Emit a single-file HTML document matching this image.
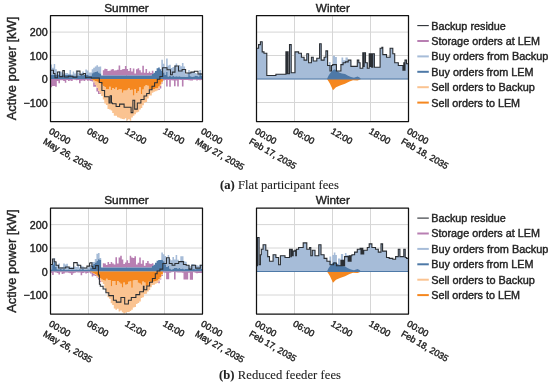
<!DOCTYPE html>
<html><head><meta charset="utf-8"><title>Figure</title>
<style>
html,body{margin:0;padding:0;background:#fff;}
svg{display:block;font-family:'Liberation Sans', Arial, sans-serif;}
svg text{stroke:#222;stroke-width:0.4px;}
</style></head><body>
<svg width="550" height="384" viewBox="0 0 550 384">
<rect width="550" height="384" fill="#fff"/>
<text x="126.5" y="11.8" font-size="11.8" text-anchor="middle" fill="#222">Summer</text>
<text x="332.8" y="11.8" font-size="11.8" text-anchor="middle" fill="#222">Winter</text>
<text transform="translate(16.2 68.5) rotate(-90)" font-size="12.95" text-anchor="middle" fill="#222">Active power [kW]</text>
<g stroke="#d6d6d6" stroke-width="1" fill="none"><line x1="50.5" y1="32.1" x2="202.5" y2="32.1"/><line x1="50.5" y1="55.5" x2="202.5" y2="55.5"/><line x1="50.5" y1="79" x2="202.5" y2="79"/><line x1="50.5" y1="102.5" x2="202.5" y2="102.5"/><line x1="88.5" y1="15.5" x2="88.5" y2="121.5"/><line x1="126.5" y1="15.5" x2="126.5" y2="121.5"/><line x1="164.5" y1="15.5" x2="164.5" y2="121.5"/></g>
<path d="M50.5 64.4L52.1 64.4L52.1 67.7L53.7 67.7L53.7 64L55.2 64L55.2 69.2L56.8 69.2L56.8 73.9L58.4 73.9L58.4 71L60 71L60 71.4L61.6 71.4L61.6 72.6L63.2 72.6L63.2 73.7L64.8 73.7L64.8 73.3L66.3 73.3L66.3 73L67.9 73L67.9 73.8L69.5 73.8L69.5 69.9L71.1 69.9L71.1 74.4L72.7 74.4L72.7 71.4L74.2 71.4L74.2 73.4L75.8 73.4L75.8 70.5L77.4 70.5L77.4 72.4L79 72.4L79 73.8L80.6 73.8L80.6 73.1L82.2 73.1L82.2 71.6L83.8 71.6L83.8 73.3L85.3 73.3L85.3 69.4L86.9 69.4L86.9 70.5L88.5 70.5L88.5 72.5L90.1 72.5L90.1 72.5L91.7 72.5L91.7 69.2L93.2 69.2L93.2 67.8L94.8 67.8L94.8 66.5L96.4 66.5L96.4 65.2L98 65.2L98 66.7L99.6 66.7L99.6 66.6L101.2 66.6L101.2 75.5L102.8 75.5L102.8 70.2L104.3 70.2L104.3 68.7L105.9 68.7L105.9 68.9L107.5 68.9L107.5 71.1L109.1 71.1L109.1 70.8L110.7 70.8L110.7 69.5L112.2 69.5L112.2 69.1L113.8 69.1L113.8 70.4L115.4 70.4L115.4 70.3L117 70.3L117 69.8L118.6 69.8L118.6 65.5L120.2 65.5L120.2 70L121.8 70L121.8 69.3L123.3 69.3L123.3 68.9L124.9 68.9L124.9 65.9L126.5 65.9L126.5 69.1L128.1 69.1L128.1 71L129.7 71L129.7 67.9L131.2 67.9L131.2 71.5L132.8 71.5L132.8 68.5L134.4 68.5L134.4 73.4L136 73.4L136 69.3L137.6 69.3L137.6 68.2L139.2 68.2L139.2 70.3L140.8 70.3L140.8 72.6L142.3 72.6L142.3 65.7L143.9 65.7L143.9 72.7L145.5 72.7L145.5 69L147.1 69L147.1 72.9L148.7 72.9L148.7 71.6L150.2 71.6L150.2 72.9L151.8 72.9L151.8 70.8L153.4 70.8L153.4 72.8L155 72.8L155 70.9L156.6 70.9L156.6 68.3L158.2 68.3L158.2 67.5L159.8 67.5L159.8 69.3L161.3 69.3L161.3 59.7L162.9 59.7L162.9 63.7L164.5 63.7L164.5 67L166.1 67L166.1 58.5L167.7 58.5L167.7 65.6L169.2 65.6L169.2 64.7L170.8 64.7L170.8 68L172.4 68L172.4 67.1L174 67.1L174 65.5L175.6 65.5L175.6 63.6L177.2 63.6L177.2 66.8L178.8 66.8L178.8 65.1L180.3 65.1L180.3 66.2L181.9 66.2L181.9 62.9L183.5 62.9L183.5 66.6L185.1 66.6L185.1 74.2L186.7 74.2L186.7 73.2L188.2 73.2L188.2 70.1L189.8 70.1L189.8 72.2L191.4 72.2L191.4 72.1L193 72.1L193 71.7L194.6 71.7L194.6 72.9L196.2 72.9L196.2 73.4L197.8 73.4L197.8 73.8L199.3 73.8L199.3 69.9L200.9 69.9L200.9 73.2L202.5 73.2L202.5 75.8L200.9 75.8L200.9 72.9L199.3 72.9L199.3 76.5L197.8 76.5L197.8 76.1L196.2 76.1L196.2 75.7L194.6 75.7L194.6 76.6L193 76.6L193 76.7L191.4 76.7L191.4 76.3L189.8 76.3L189.8 73L188.2 73L188.2 76.7L186.7 76.7L186.7 76.9L185.1 76.9L185.1 76.7L183.5 76.7L183.5 76.7L181.9 76.7L181.9 76.8L180.3 76.8L180.3 76.2L178.8 76.2L178.8 76.4L177.2 76.4L177.2 76.2L175.6 76.2L175.6 76.6L174 76.6L174 75.7L172.4 75.7L172.4 76.6L170.8 76.6L170.8 75.7L169.2 75.7L169.2 76.4L167.7 76.4L167.7 71.9L166.1 71.9L166.1 74.8L164.5 74.8L164.5 72.4L162.9 72.4L162.9 70.9L161.3 70.9L161.3 69.3L159.8 69.3L159.8 67.5L158.2 67.5L158.2 68.3L156.6 68.3L156.6 70.9L155 70.9L155 72.8L153.4 72.8L153.4 70.8L151.8 70.8L151.8 72.9L150.2 72.9L150.2 71.6L148.7 71.6L148.7 72.9L147.1 72.9L147.1 69L145.5 69L145.5 72.7L143.9 72.7L143.9 65.7L142.3 65.7L142.3 72.6L140.8 72.6L140.8 70.3L139.2 70.3L139.2 68.2L137.6 68.2L137.6 69.3L136 69.3L136 73.4L134.4 73.4L134.4 68.5L132.8 68.5L132.8 71.5L131.2 71.5L131.2 67.9L129.7 67.9L129.7 71L128.1 71L128.1 69.1L126.5 69.1L126.5 65.9L124.9 65.9L124.9 68.9L123.3 68.9L123.3 69.3L121.8 69.3L121.8 70L120.2 70L120.2 65.5L118.6 65.5L118.6 69.8L117 69.8L117 70.3L115.4 70.3L115.4 70.4L113.8 70.4L113.8 69.1L112.2 69.1L112.2 69.5L110.7 69.5L110.7 70.8L109.1 70.8L109.1 71.1L107.5 71.1L107.5 68.9L105.9 68.9L105.9 68.7L104.3 68.7L104.3 70.2L102.8 70.2L102.8 75.5L101.2 75.5L101.2 73.6L99.6 73.6L99.6 72.5L98 72.5L98 71.3L96.4 71.3L96.4 71.9L94.8 71.9L94.8 72.2L93.2 72.2L93.2 73.3L91.7 73.3L91.7 75.8L90.1 75.8L90.1 75.7L88.5 75.7L88.5 74.8L86.9 74.8L86.9 75.1L85.3 75.1L85.3 75.1L83.8 75.1L83.8 75.5L82.2 75.5L82.2 74.6L80.6 74.6L80.6 75.7L79 75.7L79 75.6L77.4 75.6L77.4 75.8L75.8 75.8L75.8 75.7L74.2 75.7L74.2 75.8L72.7 75.8L72.7 75.6L71.1 75.6L71.1 74.6L69.5 74.6L69.5 74.8L67.9 74.8L67.9 74.9L66.3 74.9L66.3 75L64.8 75L64.8 75.3L63.2 75.3L63.2 74.8L61.6 74.8L61.6 75.7L60 75.7L60 75.1L58.4 75.1L58.4 75L56.8 75L56.8 74.8L55.2 74.8L55.2 74.8L53.7 74.8L53.7 74.8L52.1 74.8L52.1 74.8L50.5 74.8Z" fill="#a6bcd8"/>
<path d="M50.5 74.8L52.1 74.8L52.1 74.8L53.7 74.8L53.7 74.8L55.2 74.8L55.2 74.8L56.8 74.8L56.8 75L58.4 75L58.4 75.1L60 75.1L60 75.7L61.6 75.7L61.6 74.8L63.2 74.8L63.2 75.3L64.8 75.3L64.8 75L66.3 75L66.3 74.9L67.9 74.9L67.9 74.8L69.5 74.8L69.5 74.6L71.1 74.6L71.1 75.6L72.7 75.6L72.7 75.8L74.2 75.8L74.2 75.7L75.8 75.7L75.8 75.8L77.4 75.8L77.4 75.6L79 75.6L79 75.7L80.6 75.7L80.6 74.6L82.2 74.6L82.2 75.5L83.8 75.5L83.8 75.1L85.3 75.1L85.3 75.1L86.9 75.1L86.9 74.8L88.5 74.8L88.5 75.7L90.1 75.7L90.1 75.8L91.7 75.8L91.7 73.3L93.2 73.3L93.2 72.2L94.8 72.2L94.8 71.9L96.4 71.9L96.4 71.3L98 71.3L98 72.5L99.6 72.5L99.6 73.6L101.2 73.6L101.2 75.5L102.8 75.5L102.8 70.2L104.3 70.2L104.3 68.7L105.9 68.7L105.9 68.9L107.5 68.9L107.5 71.1L109.1 71.1L109.1 70.8L110.7 70.8L110.7 69.5L112.2 69.5L112.2 69.1L113.8 69.1L113.8 70.4L115.4 70.4L115.4 70.3L117 70.3L117 69.8L118.6 69.8L118.6 65.5L120.2 65.5L120.2 70L121.8 70L121.8 69.3L123.3 69.3L123.3 68.9L124.9 68.9L124.9 65.9L126.5 65.9L126.5 69.1L128.1 69.1L128.1 71L129.7 71L129.7 67.9L131.2 67.9L131.2 71.5L132.8 71.5L132.8 68.5L134.4 68.5L134.4 73.4L136 73.4L136 69.3L137.6 69.3L137.6 68.2L139.2 68.2L139.2 70.3L140.8 70.3L140.8 72.6L142.3 72.6L142.3 65.7L143.9 65.7L143.9 72.7L145.5 72.7L145.5 69L147.1 69L147.1 72.9L148.7 72.9L148.7 71.6L150.2 71.6L150.2 72.9L151.8 72.9L151.8 70.8L153.4 70.8L153.4 72.8L155 72.8L155 70.9L156.6 70.9L156.6 68.3L158.2 68.3L158.2 67.5L159.8 67.5L159.8 69.3L161.3 69.3L161.3 70.9L162.9 70.9L162.9 72.4L164.5 72.4L164.5 74.8L166.1 74.8L166.1 71.9L167.7 71.9L167.7 76.4L169.2 76.4L169.2 75.7L170.8 75.7L170.8 76.6L172.4 76.6L172.4 75.7L174 75.7L174 76.6L175.6 76.6L175.6 76.2L177.2 76.2L177.2 76.4L178.8 76.4L178.8 76.2L180.3 76.2L180.3 76.8L181.9 76.8L181.9 76.7L183.5 76.7L183.5 76.7L185.1 76.7L185.1 76.9L186.7 76.9L186.7 76.7L188.2 76.7L188.2 73L189.8 73L189.8 76.3L191.4 76.3L191.4 76.7L193 76.7L193 76.6L194.6 76.6L194.6 75.7L196.2 75.7L196.2 76.1L197.8 76.1L197.8 76.5L199.3 76.5L199.3 72.9L200.9 72.9L200.9 75.8L202.5 75.8L202.5 75.8L200.9 75.8L200.9 72.9L199.3 72.9L199.3 76.5L197.8 76.5L197.8 76.1L196.2 76.1L196.2 75.7L194.6 75.7L194.6 76.6L193 76.6L193 76.7L191.4 76.7L191.4 76.3L189.8 76.3L189.8 73L188.2 73L188.2 76.7L186.7 76.7L186.7 76.9L185.1 76.9L185.1 76.7L183.5 76.7L183.5 76.7L181.9 76.7L181.9 76.8L180.3 76.8L180.3 76.2L178.8 76.2L178.8 76.4L177.2 76.4L177.2 76.2L175.6 76.2L175.6 76.6L174 76.6L174 75.7L172.4 75.7L172.4 76.6L170.8 76.6L170.8 75.7L169.2 75.7L169.2 76.4L167.7 76.4L167.7 71.9L166.1 71.9L166.1 74.8L164.5 74.8L164.5 72.4L162.9 72.4L162.9 70.9L161.3 70.9L161.3 69.3L159.8 69.3L159.8 67.5L158.2 67.5L158.2 68.3L156.6 68.3L156.6 70.9L155 70.9L155 72.8L153.4 72.8L153.4 74.1L151.8 74.1L151.8 75.5L150.2 75.5L150.2 75.5L148.7 75.5L148.7 75.5L147.1 75.5L147.1 75.5L145.5 75.5L145.5 75.5L143.9 75.5L143.9 75.5L142.3 75.5L142.3 75.5L140.8 75.5L140.8 75.5L139.2 75.5L139.2 75.5L137.6 75.5L137.6 75.5L136 75.5L136 75.5L134.4 75.5L134.4 75.5L132.8 75.5L132.8 75.5L131.2 75.5L131.2 75.5L129.7 75.5L129.7 75.5L128.1 75.5L128.1 75.5L126.5 75.5L126.5 75.5L124.9 75.5L124.9 75.5L123.3 75.5L123.3 75.5L121.8 75.5L121.8 75.5L120.2 75.5L120.2 75.5L118.6 75.5L118.6 75.5L117 75.5L117 75.5L115.4 75.5L115.4 75.5L113.8 75.5L113.8 75.5L112.2 75.5L112.2 75.5L110.7 75.5L110.7 75.5L109.1 75.5L109.1 75.5L107.5 75.5L107.5 75.5L105.9 75.5L105.9 75.5L104.3 75.5L104.3 75.5L102.8 75.5L102.8 75.5L101.2 75.5L101.2 73.6L99.6 73.6L99.6 72.5L98 72.5L98 71.3L96.4 71.3L96.4 71.9L94.8 71.9L94.8 72.2L93.2 72.2L93.2 73.3L91.7 73.3L91.7 75.8L90.1 75.8L90.1 75.7L88.5 75.7L88.5 74.8L86.9 74.8L86.9 75.1L85.3 75.1L85.3 75.1L83.8 75.1L83.8 75.5L82.2 75.5L82.2 74.6L80.6 74.6L80.6 75.7L79 75.7L79 75.6L77.4 75.6L77.4 75.8L75.8 75.8L75.8 75.7L74.2 75.7L74.2 75.8L72.7 75.8L72.7 75.6L71.1 75.6L71.1 74.6L69.5 74.6L69.5 74.8L67.9 74.8L67.9 74.9L66.3 74.9L66.3 75L64.8 75L64.8 75.3L63.2 75.3L63.2 74.8L61.6 74.8L61.6 75.7L60 75.7L60 75.1L58.4 75.1L58.4 75L56.8 75L56.8 74.8L55.2 74.8L55.2 74.8L53.7 74.8L53.7 74.8L52.1 74.8L52.1 74.8L50.5 74.8Z" fill="#b87fb2"/>
<path d="M50.5 74.8L52.1 74.8L52.1 74.8L53.7 74.8L53.7 74.8L55.2 74.8L55.2 74.8L56.8 74.8L56.8 75L58.4 75L58.4 75.1L60 75.1L60 75.7L61.6 75.7L61.6 74.8L63.2 74.8L63.2 75.3L64.8 75.3L64.8 75L66.3 75L66.3 74.9L67.9 74.9L67.9 74.8L69.5 74.8L69.5 74.6L71.1 74.6L71.1 75.6L72.7 75.6L72.7 75.8L74.2 75.8L74.2 75.7L75.8 75.7L75.8 75.8L77.4 75.8L77.4 75.6L79 75.6L79 75.7L80.6 75.7L80.6 74.6L82.2 74.6L82.2 75.5L83.8 75.5L83.8 75.1L85.3 75.1L85.3 75.1L86.9 75.1L86.9 74.8L88.5 74.8L88.5 75.7L90.1 75.7L90.1 75.8L91.7 75.8L91.7 73.3L93.2 73.3L93.2 72.2L94.8 72.2L94.8 71.9L96.4 71.9L96.4 71.3L98 71.3L98 72.5L99.6 72.5L99.6 73.6L101.2 73.6L101.2 75.5L102.8 75.5L102.8 75.5L104.3 75.5L104.3 75.5L105.9 75.5L105.9 75.5L107.5 75.5L107.5 75.5L109.1 75.5L109.1 75.5L110.7 75.5L110.7 75.5L112.2 75.5L112.2 75.5L113.8 75.5L113.8 75.5L115.4 75.5L115.4 75.5L117 75.5L117 75.5L118.6 75.5L118.6 75.5L120.2 75.5L120.2 75.5L121.8 75.5L121.8 75.5L123.3 75.5L123.3 75.5L124.9 75.5L124.9 75.5L126.5 75.5L126.5 75.5L128.1 75.5L128.1 75.5L129.7 75.5L129.7 75.5L131.2 75.5L131.2 75.5L132.8 75.5L132.8 75.5L134.4 75.5L134.4 75.5L136 75.5L136 75.5L137.6 75.5L137.6 75.5L139.2 75.5L139.2 75.5L140.8 75.5L140.8 75.5L142.3 75.5L142.3 75.5L143.9 75.5L143.9 75.5L145.5 75.5L145.5 75.5L147.1 75.5L147.1 75.5L148.7 75.5L148.7 75.5L150.2 75.5L150.2 75.5L151.8 75.5L151.8 74.1L153.4 74.1L153.4 72.8L155 72.8L155 70.9L156.6 70.9L156.6 68.3L158.2 68.3L158.2 67.5L159.8 67.5L159.8 69.3L161.3 69.3L161.3 70.9L162.9 70.9L162.9 72.4L164.5 72.4L164.5 74.8L166.1 74.8L166.1 71.9L167.7 71.9L167.7 76.4L169.2 76.4L169.2 75.7L170.8 75.7L170.8 76.6L172.4 76.6L172.4 75.7L174 75.7L174 76.6L175.6 76.6L175.6 76.2L177.2 76.2L177.2 76.4L178.8 76.4L178.8 76.2L180.3 76.2L180.3 76.8L181.9 76.8L181.9 76.7L183.5 76.7L183.5 76.7L185.1 76.7L185.1 76.9L186.7 76.9L186.7 76.7L188.2 76.7L188.2 73L189.8 73L189.8 76.3L191.4 76.3L191.4 76.7L193 76.7L193 76.6L194.6 76.6L194.6 75.7L196.2 75.7L196.2 76.1L197.8 76.1L197.8 76.5L199.3 76.5L199.3 72.9L200.9 72.9L200.9 75.8L202.5 75.8L202.5 79L200.9 79L200.9 79L199.3 79L199.3 79L197.8 79L197.8 79L196.2 79L196.2 79L194.6 79L194.6 79L193 79L193 79L191.4 79L191.4 79L189.8 79L189.8 79L188.2 79L188.2 79L186.7 79L186.7 79L185.1 79L185.1 79L183.5 79L183.5 79L181.9 79L181.9 79L180.3 79L180.3 79L178.8 79L178.8 79L177.2 79L177.2 79L175.6 79L175.6 79L174 79L174 79L172.4 79L172.4 79L170.8 79L170.8 79L169.2 79L169.2 79L167.7 79L167.7 79L166.1 79L166.1 79L164.5 79L164.5 79L162.9 79L162.9 79L161.3 79L161.3 79L159.8 79L159.8 79L158.2 79L158.2 79L156.6 79L156.6 79L155 79L155 79L153.4 79L153.4 79L151.8 79L151.8 79L150.2 79L150.2 79L148.7 79L148.7 79L147.1 79L147.1 79L145.5 79L145.5 79L143.9 79L143.9 79L142.3 79L142.3 79L140.8 79L140.8 79L139.2 79L139.2 79L137.6 79L137.6 79L136 79L136 79L134.4 79L134.4 79L132.8 79L132.8 79L131.2 79L131.2 79L129.7 79L129.7 79L128.1 79L128.1 79L126.5 79L126.5 79L124.9 79L124.9 79L123.3 79L123.3 79L121.8 79L121.8 79L120.2 79L120.2 79L118.6 79L118.6 79L117 79L117 79L115.4 79L115.4 79L113.8 79L113.8 79L112.2 79L112.2 79L110.7 79L110.7 79L109.1 79L109.1 79L107.5 79L107.5 79L105.9 79L105.9 79L104.3 79L104.3 79L102.8 79L102.8 79L101.2 79L101.2 79L99.6 79L99.6 79L98 79L98 79L96.4 79L96.4 79L94.8 79L94.8 79L93.2 79L93.2 79L91.7 79L91.7 79L90.1 79L90.1 79L88.5 79L88.5 79L86.9 79L86.9 79L85.3 79L85.3 79L83.8 79L83.8 79L82.2 79L82.2 79L80.6 79L80.6 79L79 79L79 79L77.4 79L77.4 79L75.8 79L75.8 79L74.2 79L74.2 79L72.7 79L72.7 79L71.1 79L71.1 79L69.5 79L69.5 79L67.9 79L67.9 79L66.3 79L66.3 79L64.8 79L64.8 79L63.2 79L63.2 79L61.6 79L61.6 79L60 79L60 79L58.4 79L58.4 79L56.8 79L56.8 79L55.2 79L55.2 79L53.7 79L53.7 79L52.1 79L52.1 79L50.5 79Z" fill="#4e79a7"/>
<path d="M50.5 79L52.1 79L52.1 79L53.7 79L53.7 79L55.2 79L55.2 79L56.8 79L56.8 79L58.4 79L58.4 79L60 79L60 79L61.6 79L61.6 79L63.2 79L63.2 79L64.8 79L64.8 79L66.3 79L66.3 79L67.9 79L67.9 79L69.5 79L69.5 79L71.1 79L71.1 79L72.7 79L72.7 79L74.2 79L74.2 79L75.8 79L75.8 79L77.4 79L77.4 79L79 79L79 79L80.6 79L80.6 79L82.2 79L82.2 79L83.8 79L83.8 79L85.3 79L85.3 79L86.9 79L86.9 79L88.5 79L88.5 79L90.1 79L90.1 79L91.7 79L91.7 79.7L93.2 79.7L93.2 82.3L94.8 82.3L94.8 84.9L96.4 84.9L96.4 87.8L98 87.8L98 90.7L99.6 90.7L99.6 93.2L101.2 93.2L101.2 95.9L102.8 95.9L102.8 99.6L104.3 99.6L104.3 103.6L105.9 103.6L105.9 104.9L107.5 104.9L107.5 108.9L109.1 108.9L109.1 109.5L110.7 109.5L110.7 110.6L112.2 110.6L112.2 112.9L113.8 112.9L113.8 115.7L115.4 115.7L115.4 115.8L117 115.8L117 117.3L118.6 117.3L118.6 117.8L120.2 117.8L120.2 118.5L121.8 118.5L121.8 119.1L123.3 119.1L123.3 119.2L124.9 119.2L124.9 118.2L126.5 118.2L126.5 120.5L128.1 120.5L128.1 119.3L129.7 119.3L129.7 120.8L131.2 120.8L131.2 117.6L132.8 117.6L132.8 115.8L134.4 115.8L134.4 114.3L136 114.3L136 112.5L137.6 112.5L137.6 111.8L139.2 111.8L139.2 109.5L140.8 109.5L140.8 107.9L142.3 107.9L142.3 105.2L143.9 105.2L143.9 102.8L145.5 102.8L145.5 102L147.1 102L147.1 98.6L148.7 98.6L148.7 95.6L150.2 95.6L150.2 95.4L151.8 95.4L151.8 92.8L153.4 92.8L153.4 91.7L155 91.7L155 91.3L156.6 91.3L156.6 90.4L158.2 90.4L158.2 88.7L159.8 88.7L159.8 85.9L161.3 85.9L161.3 82.4L162.9 82.4L162.9 79L164.5 79L164.5 79L166.1 79L166.1 79L167.7 79L167.7 79L169.2 79L169.2 79L170.8 79L170.8 79L172.4 79L172.4 79L174 79L174 79L175.6 79L175.6 79L177.2 79L177.2 79L178.8 79L178.8 79L180.3 79L180.3 79L181.9 79L181.9 79L183.5 79L183.5 79L185.1 79L185.1 79L186.7 79L186.7 79L188.2 79L188.2 79L189.8 79L189.8 79L191.4 79L191.4 79L193 79L193 79L194.6 79L194.6 79L196.2 79L196.2 79L197.8 79L197.8 79L199.3 79L199.3 79L200.9 79L200.9 79L202.5 79L202.5 80.1L200.9 80.1L200.9 80.3L199.3 80.3L199.3 79.9L197.8 79.9L197.8 80.4L196.2 80.4L196.2 79.8L194.6 79.8L194.6 79.7L193 79.7L193 80.5L191.4 80.5L191.4 80.5L189.8 80.5L189.8 80.2L188.2 80.2L188.2 79.9L186.7 79.9L186.7 80.1L185.1 80.1L185.1 79.9L183.5 79.9L183.5 86.5L181.9 86.5L181.9 80L180.3 80L180.3 79.8L178.8 79.8L178.8 86.4L177.2 86.4L177.2 80.6L175.6 80.6L175.6 86.2L174 86.2L174 80.5L172.4 80.5L172.4 80.2L170.8 80.2L170.8 86.7L169.2 86.7L169.2 80.1L167.7 80.1L167.7 86.5L166.1 86.5L166.1 80.1L164.5 80.1L164.5 80.5L162.9 80.5L162.9 83.5L161.3 83.5L161.3 88.5L159.8 88.5L159.8 90L158.2 90L158.2 90.4L156.6 90.4L156.6 91.3L155 91.3L155 91.7L153.4 91.7L153.4 92.8L151.8 92.8L151.8 95.4L150.2 95.4L150.2 95.6L148.7 95.6L148.7 98.6L147.1 98.6L147.1 102L145.5 102L145.5 102.8L143.9 102.8L143.9 105.2L142.3 105.2L142.3 107.9L140.8 107.9L140.8 109.5L139.2 109.5L139.2 111.8L137.6 111.8L137.6 112.5L136 112.5L136 114.3L134.4 114.3L134.4 115.8L132.8 115.8L132.8 117.6L131.2 117.6L131.2 120.8L129.7 120.8L129.7 119.3L128.1 119.3L128.1 120.5L126.5 120.5L126.5 118.2L124.9 118.2L124.9 119.2L123.3 119.2L123.3 119.1L121.8 119.1L121.8 118.5L120.2 118.5L120.2 117.8L118.6 117.8L118.6 117.3L117 117.3L117 115.8L115.4 115.8L115.4 115.7L113.8 115.7L113.8 112.9L112.2 112.9L112.2 110.6L110.7 110.6L110.7 109.5L109.1 109.5L109.1 108.9L107.5 108.9L107.5 104.9L105.9 104.9L105.9 103.6L104.3 103.6L104.3 99.6L102.8 99.6L102.8 95.9L101.2 95.9L101.2 93.9L99.6 93.9L99.6 94.1L98 94.1L98 91.4L96.4 91.4L96.4 86.7L94.8 86.7L94.8 86.8L93.2 86.8L93.2 81.5L91.7 81.5L91.7 81.1L90.1 81.1L90.1 80.5L88.5 80.5L88.5 80.7L86.9 80.7L86.9 79.7L85.3 79.7L85.3 81L83.8 81L83.8 80.4L82.2 80.4L82.2 80.7L80.6 80.7L80.6 83.3L79 83.3L79 80L77.4 80L77.4 80.2L75.8 80.2L75.8 79.8L74.2 79.8L74.2 79.6L72.7 79.6L72.7 81.1L71.1 81.1L71.1 80.5L69.5 80.5L69.5 81L67.9 81L67.9 80.1L66.3 80.1L66.3 82.8L64.8 82.8L64.8 81.1L63.2 81.1L63.2 80.3L61.6 80.3L61.6 80.2L60 80.2L60 83.2L58.4 83.2L58.4 81.1L56.8 81.1L56.8 86.7L55.2 86.7L55.2 86.1L53.7 86.1L53.7 85.9L52.1 85.9L52.1 87.2L50.5 87.2Z" fill="#b87fb2"/>
<path d="M50.5 79L52.1 79L52.1 79L53.7 79L53.7 79L55.2 79L55.2 79L56.8 79L56.8 79L58.4 79L58.4 79L60 79L60 79L61.6 79L61.6 79L63.2 79L63.2 79L64.8 79L64.8 79L66.3 79L66.3 79L67.9 79L67.9 79L69.5 79L69.5 79L71.1 79L71.1 79L72.7 79L72.7 79L74.2 79L74.2 79L75.8 79L75.8 79L77.4 79L77.4 79L79 79L79 79L80.6 79L80.6 79L82.2 79L82.2 79L83.8 79L83.8 79L85.3 79L85.3 79L86.9 79L86.9 79L88.5 79L88.5 79L90.1 79L90.1 79L91.7 79L91.7 79.7L93.2 79.7L93.2 80.4L94.8 80.4L94.8 81.1L96.4 81.1L96.4 81.8L98 81.8L98 82.5L99.6 82.5L99.6 83.6L101.2 83.6L101.2 84.6L102.8 84.6L102.8 85.9L104.3 85.9L104.3 87.1L105.9 87.1L105.9 89.3L107.5 89.3L107.5 89.3L109.1 89.3L109.1 86.8L110.7 86.8L110.7 90.1L112.2 90.1L112.2 87.9L113.8 87.9L113.8 89.1L115.4 89.1L115.4 87.6L117 87.6L117 90L118.6 90L118.6 89.3L120.2 89.3L120.2 89.3L121.8 89.3L121.8 92.8L123.3 92.8L123.3 90.4L124.9 90.4L124.9 90.5L126.5 90.5L126.5 89.8L128.1 89.8L128.1 88.3L129.7 88.3L129.7 90.1L131.2 90.1L131.2 89.7L132.8 89.7L132.8 95.5L134.4 95.5L134.4 89L136 89L136 93.1L137.6 93.1L137.6 91.3L139.2 91.3L139.2 87.2L140.8 87.2L140.8 94L142.3 94L142.3 89.6L143.9 89.6L143.9 86.5L145.5 86.5L145.5 85L147.1 85L147.1 85.7L148.7 85.7L148.7 88.9L150.2 88.9L150.2 89.4L151.8 89.4L151.8 89.6L153.4 89.6L153.4 89.1L155 89.1L155 88.6L156.6 88.6L156.6 87.9L158.2 87.9L158.2 86.6L159.8 86.6L159.8 84.6L161.3 84.6L161.3 81.7L162.9 81.7L162.9 79L164.5 79L164.5 79L166.1 79L166.1 79L167.7 79L167.7 79L169.2 79L169.2 79L170.8 79L170.8 79L172.4 79L172.4 79L174 79L174 79L175.6 79L175.6 79L177.2 79L177.2 79L178.8 79L178.8 79L180.3 79L180.3 79L181.9 79L181.9 79L183.5 79L183.5 79L185.1 79L185.1 79L186.7 79L186.7 79L188.2 79L188.2 79L189.8 79L189.8 79L191.4 79L191.4 79L193 79L193 79L194.6 79L194.6 79L196.2 79L196.2 79L197.8 79L197.8 79L199.3 79L199.3 79L200.9 79L200.9 79L202.5 79L202.5 79L200.9 79L200.9 79L199.3 79L199.3 79L197.8 79L197.8 79L196.2 79L196.2 79L194.6 79L194.6 79L193 79L193 79L191.4 79L191.4 79L189.8 79L189.8 79L188.2 79L188.2 79L186.7 79L186.7 79L185.1 79L185.1 79L183.5 79L183.5 79L181.9 79L181.9 79L180.3 79L180.3 79L178.8 79L178.8 79L177.2 79L177.2 79L175.6 79L175.6 79L174 79L174 79L172.4 79L172.4 79L170.8 79L170.8 79L169.2 79L169.2 79L167.7 79L167.7 79L166.1 79L166.1 79L164.5 79L164.5 79L162.9 79L162.9 82.4L161.3 82.4L161.3 85.9L159.8 85.9L159.8 88.7L158.2 88.7L158.2 90.4L156.6 90.4L156.6 91.3L155 91.3L155 91.7L153.4 91.7L153.4 92.8L151.8 92.8L151.8 95.4L150.2 95.4L150.2 95.6L148.7 95.6L148.7 98.6L147.1 98.6L147.1 102L145.5 102L145.5 102.8L143.9 102.8L143.9 105.2L142.3 105.2L142.3 107.9L140.8 107.9L140.8 109.5L139.2 109.5L139.2 111.8L137.6 111.8L137.6 112.5L136 112.5L136 114.3L134.4 114.3L134.4 115.8L132.8 115.8L132.8 117.6L131.2 117.6L131.2 120.8L129.7 120.8L129.7 119.3L128.1 119.3L128.1 120.5L126.5 120.5L126.5 118.2L124.9 118.2L124.9 119.2L123.3 119.2L123.3 119.1L121.8 119.1L121.8 118.5L120.2 118.5L120.2 117.8L118.6 117.8L118.6 117.3L117 117.3L117 115.8L115.4 115.8L115.4 115.7L113.8 115.7L113.8 112.9L112.2 112.9L112.2 110.6L110.7 110.6L110.7 109.5L109.1 109.5L109.1 108.9L107.5 108.9L107.5 104.9L105.9 104.9L105.9 103.6L104.3 103.6L104.3 99.6L102.8 99.6L102.8 95.9L101.2 95.9L101.2 93.2L99.6 93.2L99.6 90.7L98 90.7L98 87.8L96.4 87.8L96.4 84.9L94.8 84.9L94.8 82.3L93.2 82.3L93.2 79.7L91.7 79.7L91.7 79L90.1 79L90.1 79L88.5 79L88.5 79L86.9 79L86.9 79L85.3 79L85.3 79L83.8 79L83.8 79L82.2 79L82.2 79L80.6 79L80.6 79L79 79L79 79L77.4 79L77.4 79L75.8 79L75.8 79L74.2 79L74.2 79L72.7 79L72.7 79L71.1 79L71.1 79L69.5 79L69.5 79L67.9 79L67.9 79L66.3 79L66.3 79L64.8 79L64.8 79L63.2 79L63.2 79L61.6 79L61.6 79L60 79L60 79L58.4 79L58.4 79L56.8 79L56.8 79L55.2 79L55.2 79L53.7 79L53.7 79L52.1 79L52.1 79L50.5 79Z" fill="#fac391"/>
<path d="M50.5 79L52.1 79L52.1 79L53.7 79L53.7 79L55.2 79L55.2 79L56.8 79L56.8 79L58.4 79L58.4 79L60 79L60 79L61.6 79L61.6 79L63.2 79L63.2 79L64.8 79L64.8 79L66.3 79L66.3 79L67.9 79L67.9 79L69.5 79L69.5 79L71.1 79L71.1 79L72.7 79L72.7 79L74.2 79L74.2 79L75.8 79L75.8 79L77.4 79L77.4 79L79 79L79 79L80.6 79L80.6 79L82.2 79L82.2 79L83.8 79L83.8 79L85.3 79L85.3 79L86.9 79L86.9 79L88.5 79L88.5 79L90.1 79L90.1 79L91.7 79L91.7 79L93.2 79L93.2 79L94.8 79L94.8 79L96.4 79L96.4 79L98 79L98 79L99.6 79L99.6 79L101.2 79L101.2 79L102.8 79L102.8 79L104.3 79L104.3 79L105.9 79L105.9 79L107.5 79L107.5 79L109.1 79L109.1 79L110.7 79L110.7 79L112.2 79L112.2 79L113.8 79L113.8 79L115.4 79L115.4 79L117 79L117 79L118.6 79L118.6 79L120.2 79L120.2 79L121.8 79L121.8 79L123.3 79L123.3 79L124.9 79L124.9 79L126.5 79L126.5 79L128.1 79L128.1 79L129.7 79L129.7 79L131.2 79L131.2 79L132.8 79L132.8 79L134.4 79L134.4 79L136 79L136 79L137.6 79L137.6 79L139.2 79L139.2 79L140.8 79L140.8 79L142.3 79L142.3 79L143.9 79L143.9 79L145.5 79L145.5 79L147.1 79L147.1 79L148.7 79L148.7 79L150.2 79L150.2 79L151.8 79L151.8 79L153.4 79L153.4 79L155 79L155 79L156.6 79L156.6 79L158.2 79L158.2 79L159.8 79L159.8 79L161.3 79L161.3 79L162.9 79L162.9 79L164.5 79L164.5 79L166.1 79L166.1 79L167.7 79L167.7 79L169.2 79L169.2 79L170.8 79L170.8 79L172.4 79L172.4 79L174 79L174 79L175.6 79L175.6 79L177.2 79L177.2 79L178.8 79L178.8 79L180.3 79L180.3 79L181.9 79L181.9 79L183.5 79L183.5 79L185.1 79L185.1 79L186.7 79L186.7 79L188.2 79L188.2 79L189.8 79L189.8 79L191.4 79L191.4 79L193 79L193 79L194.6 79L194.6 79L196.2 79L196.2 79L197.8 79L197.8 79L199.3 79L199.3 79L200.9 79L200.9 79L202.5 79L202.5 79L200.9 79L200.9 79L199.3 79L199.3 79L197.8 79L197.8 79L196.2 79L196.2 79L194.6 79L194.6 79L193 79L193 79L191.4 79L191.4 79L189.8 79L189.8 79L188.2 79L188.2 79L186.7 79L186.7 79L185.1 79L185.1 79L183.5 79L183.5 79L181.9 79L181.9 79L180.3 79L180.3 79L178.8 79L178.8 79L177.2 79L177.2 79L175.6 79L175.6 79L174 79L174 79L172.4 79L172.4 79L170.8 79L170.8 79L169.2 79L169.2 79L167.7 79L167.7 79L166.1 79L166.1 79L164.5 79L164.5 79L162.9 79L162.9 81.7L161.3 81.7L161.3 84.6L159.8 84.6L159.8 86.6L158.2 86.6L158.2 87.9L156.6 87.9L156.6 88.6L155 88.6L155 89.1L153.4 89.1L153.4 89.6L151.8 89.6L151.8 89.4L150.2 89.4L150.2 88.9L148.7 88.9L148.7 85.7L147.1 85.7L147.1 85L145.5 85L145.5 86.5L143.9 86.5L143.9 89.6L142.3 89.6L142.3 94L140.8 94L140.8 87.2L139.2 87.2L139.2 91.3L137.6 91.3L137.6 93.1L136 93.1L136 89L134.4 89L134.4 95.5L132.8 95.5L132.8 89.7L131.2 89.7L131.2 90.1L129.7 90.1L129.7 88.3L128.1 88.3L128.1 89.8L126.5 89.8L126.5 90.5L124.9 90.5L124.9 90.4L123.3 90.4L123.3 92.8L121.8 92.8L121.8 89.3L120.2 89.3L120.2 89.3L118.6 89.3L118.6 90L117 90L117 87.6L115.4 87.6L115.4 89.1L113.8 89.1L113.8 87.9L112.2 87.9L112.2 90.1L110.7 90.1L110.7 86.8L109.1 86.8L109.1 89.3L107.5 89.3L107.5 89.3L105.9 89.3L105.9 87.1L104.3 87.1L104.3 85.9L102.8 85.9L102.8 84.6L101.2 84.6L101.2 83.6L99.6 83.6L99.6 82.5L98 82.5L98 81.8L96.4 81.8L96.4 81.1L94.8 81.1L94.8 80.4L93.2 80.4L93.2 79.7L91.7 79.7L91.7 79L90.1 79L90.1 79L88.5 79L88.5 79L86.9 79L86.9 79L85.3 79L85.3 79L83.8 79L83.8 79L82.2 79L82.2 79L80.6 79L80.6 79L79 79L79 79L77.4 79L77.4 79L75.8 79L75.8 79L74.2 79L74.2 79L72.7 79L72.7 79L71.1 79L71.1 79L69.5 79L69.5 79L67.9 79L67.9 79L66.3 79L66.3 79L64.8 79L64.8 79L63.2 79L63.2 79L61.6 79L61.6 79L60 79L60 79L58.4 79L58.4 79L56.8 79L56.8 79L55.2 79L55.2 79L53.7 79L53.7 79L52.1 79L52.1 79L50.5 79Z" fill="#f5871f"/>
<path d="M50.5 70.3L53.5 70.3L53.5 73.4L55 73.4L55 77.8L57.4 77.8L57.4 71.9L59.7 71.9L59.7 76.6L62.8 76.6L62.8 70.6L64.4 70.6L64.4 76.9L68.3 76.9L68.3 76.2L73 76.2L73 77.2L76.9 77.2L76.9 71.1L80 71.1L80 74.7L83.2 74.7L83.2 73.4L85.5 73.4L85.5 77.8L86 77.8L86 77.2L91.3 77.2L91.3 77.9L99.3 77.9L99.3 82.5L101.9 82.5L101.9 90.5L104.6 90.5L104.6 96.7L109 96.7L109 102.9L110.2 102.9L110.2 95.8L111.5 95.8L111.5 102.9L112.5 102.9L112.5 103.8L116.1 103.8L116.1 106.4L119.6 106.4L119.6 104.1L124.1 104.1L124.1 107.3L131.1 107.3L131.1 112.6L132.9 112.6L132.9 100.2L134.7 100.2L134.7 109.1L137.3 109.1L137.3 102.9L140.9 102.9L140.9 99.4L144.1 99.4L144 96L146.7 96L146.7 93.4L149.3 93.4L149.3 89.8L152 89.8L152 86.3L154.6 86.3L154.6 82.7L157.3 82.7L157.3 79.2L159.9 79.2L159.9 76.5L162.6 76.5L162.6 67.7L167 67.7L167 69.8L170.5 69.8L170.5 74.8L172.3 74.8L172.3 72.1L175 72.1L175 65.9L178.5 65.9L178.5 70.9L182.1 70.9L182.1 69.5L185.6 69.5L185.6 73L190.9 73L190.9 72.1L194.4 72.1L194.4 71.2L198 71.2L198 73.9L202.4 73.9" fill="none" stroke="#2a2e33" stroke-width="1.05" stroke-linejoin="miter"/>
<rect x="50.5" y="15.5" width="152" height="106" fill="none" stroke="#111" stroke-width="1.25" stroke-linejoin="round"/>
<g stroke="#d6d6d6" stroke-width="1" fill="none"><line x1="256.5" y1="32.1" x2="408.5" y2="32.1"/><line x1="256.5" y1="55.5" x2="408.5" y2="55.5"/><line x1="256.5" y1="79" x2="408.5" y2="79"/><line x1="256.5" y1="102.5" x2="408.5" y2="102.5"/><line x1="294.5" y1="15.5" x2="294.5" y2="121.5"/><line x1="332.5" y1="15.5" x2="332.5" y2="121.5"/><line x1="370.5" y1="15.5" x2="370.5" y2="121.5"/></g>
<path d="M328.9 79L328.9 62.1L330.6 62.1L330.6 79ZM332.9 79L332.9 55.8L335 55.8L335 79ZM335 79L335 56.9L336.9 56.9L336.9 79ZM341.5 79L341.5 57.4L343.2 57.4L343.2 79ZM343.2 79L343.2 60.2L345.5 60.2L345.5 79ZM345.5 79L345.5 57.4L347.8 57.4L347.8 79ZM347.8 79L347.8 60.7L351.2 60.7L351.2 79Z" fill="#a6bcd8"/>
<path d="M256.6 48.2L258.6 48.2L258.6 44.6L260.4 44.6L260.4 41.8L262.2 41.8L262.2 51.9L264 51.9L264 53.3L266.8 53.3L266.8 75.5L275.9 75.5L275.9 74.3L285.9 74.3L285.9 51.9L286.8 51.9L286.8 73.7L287.2 73.7L287.2 51.9L288.1 51.9L288.1 73.7L289.5 73.7L289.5 44.6L291.2 44.6L291.2 72.8L295 72.8L295 51.9L298.6 51.9L298.6 53.3L301.4 53.3L301.4 57.3L304.1 57.3L304.1 60.1L306.8 60.1L306.8 53.7L308.6 53.7L308.6 62.8L311.4 62.8L311.4 57.3L313.2 57.3L313.2 61L316.8 61L316.8 58.2L319.6 58.2L319.6 43.7L321.2 43.7L321.2 60.1L324.1 60.1L324.1 57.3L325.9 57.3L325.9 50.9L327.6 50.9L327.6 65.5L330 65.5L330 71L331.5 71L331.5 65.5L332.7 65.5L332.7 64.6L336.4 64.6L336.4 71L340.9 71L340.9 64.6L343.1 64.6L343.1 62.8L345.5 62.8L345.5 61.9L348.2 61.9L348.2 60.1L350.9 60.1L350.9 66.4L357.3 66.4L357.3 60.1L358.8 60.1L358.8 62.8L360.1 62.8L360.1 68.3L362.8 68.3L362.8 52.8L363.9 52.8L363.9 66.4L364.2 66.4L364.2 52.8L365.5 52.8L365.5 62.8L367.3 62.8L367.3 68.3L369.2 68.3L369.2 53.7L370.3 53.7L370.3 66.4L370.6 66.4L370.6 53.7L371.7 53.7L371.7 67.3L372.8 67.3L372.8 53.7L374.4 53.7L374.4 67.3L380.1 67.3L380.1 48.2L381.9 48.2L381.9 47.3L382.8 47.3L382.8 54.6L386.5 54.6L386.5 57.3L390.1 57.3L390.1 48.2L392.8 48.2L392.8 53.7L394.7 53.7L394.7 62.8L398.3 62.8L398.3 65.5L402.9 65.5L402.9 70.1L403.8 70.1L403.8 62.8L404.5 62.8L404.5 70.1L405 70.1L405 60.1L406.5 60.1L406.5 63.7L408.5 63.7L408.5 79L256.6 79Z" fill="#a6bcd8"/>
<path d="M327 79L328.5 75.7L330 73.4L332 71L334 69.4L335 69.6L337 71L339.5 72.7L342 73.4L345 74.1L348 75.7L351 76.9L354 77.8L357.5 76.4L359.5 77.6L361 79Z" fill="#4e79a7"/>
<path d="M327 79L328.5 81.3L330 83.7L331.5 87L333 90.3L334 89.3L336 87.2L340 85.6L345 83.7L349.5 81.6L353 80.2L357.5 80.6L359.5 79.7L361 79Z" fill="#f5871f"/>
<line x1="256.5" y1="79" x2="408.5" y2="79" stroke="#4e79a7" stroke-width="1"/>
<path d="M256.6 48.2L258.6 48.2L258.6 44.6L260.4 44.6L260.4 41.8L262.2 41.8L262.2 51.9L264 51.9L264 53.3L266.8 53.3L266.8 75.5L275.9 75.5L275.9 74.3L285.9 74.3L285.9 51.9L286.8 51.9L286.8 73.7L287.2 73.7L287.2 51.9L288.1 51.9L288.1 73.7L289.5 73.7L289.5 44.6L291.2 44.6L291.2 72.8L295 72.8L295 51.9L298.6 51.9L298.6 53.3L301.4 53.3L301.4 57.3L304.1 57.3L304.1 60.1L306.8 60.1L306.8 53.7L308.6 53.7L308.6 62.8L311.4 62.8L311.4 57.3L313.2 57.3L313.2 61L316.8 61L316.8 58.2L319.6 58.2L319.6 43.7L321.2 43.7L321.2 60.1L324.1 60.1L324.1 57.3L325.9 57.3L325.9 50.9L327.6 50.9L327.6 65.5L330 65.5L330 71L331.5 71L331.5 65.5L332.7 65.5L332.7 64.6L336.4 64.6L336.4 71L340.9 71L340.9 64.6L343.1 64.6L343.1 62.8L345.5 62.8L345.5 61.9L348.2 61.9L348.2 60.1L350.9 60.1L350.9 66.4L357.3 66.4L357.3 60.1L358.8 60.1L358.8 62.8L360.1 62.8L360.1 68.3L362.8 68.3L362.8 52.8L363.9 52.8L363.9 66.4L364.2 66.4L364.2 52.8L365.5 52.8L365.5 62.8L367.3 62.8L367.3 68.3L369.2 68.3L369.2 53.7L370.3 53.7L370.3 66.4L370.6 66.4L370.6 53.7L371.7 53.7L371.7 67.3L372.8 67.3L372.8 53.7L374.4 53.7L374.4 67.3L380.1 67.3L380.1 48.2L381.9 48.2L381.9 47.3L382.8 47.3L382.8 54.6L386.5 54.6L386.5 57.3L390.1 57.3L390.1 48.2L392.8 48.2L392.8 53.7L394.7 53.7L394.7 62.8L398.3 62.8L398.3 65.5L402.9 65.5L402.9 70.1L403.8 70.1L403.8 62.8L404.5 62.8L404.5 70.1L405 70.1L405 60.1L406.5 60.1L406.5 63.7L408.5 63.7" fill="none" stroke="#2a2e33" stroke-width="1.1"/>
<rect x="256.5" y="15.5" width="152" height="106" fill="none" stroke="#111" stroke-width="1.25" stroke-linejoin="round"/>
<g font-size="10.7" fill="#222"><text x="47.6" y="36.4" text-anchor="end">200</text><text x="47.6" y="59.8" text-anchor="end">100</text><text x="47.6" y="83.3" text-anchor="end">0</text><text x="47.6" y="106.8" text-anchor="end">−100</text></g>
<g font-size="9.2" fill="#222"><g transform="translate(48.3 133.1) rotate(30)"><text x="0" y="0">00:00</text><text x="0" y="11.6" textLength="54.8" lengthAdjust="spacingAndGlyphs">May 26, 2035</text></g><g transform="translate(86.3 133.1) rotate(30)"><text x="0" y="0">06:00</text></g><g transform="translate(124.3 133.1) rotate(30)"><text x="0" y="0">12:00</text></g><g transform="translate(162.3 133.1) rotate(30)"><text x="0" y="0">18:00</text></g><g transform="translate(200.3 133.1) rotate(30)"><text x="0" y="0">00:00</text><text x="0" y="11.6" textLength="54.8" lengthAdjust="spacingAndGlyphs">May 27, 2035</text></g></g>
<g font-size="9.2" fill="#222"><g transform="translate(254.3 133.1) rotate(30)"><text x="0" y="0">00:00</text><text x="0" y="11.6" textLength="52.6" lengthAdjust="spacingAndGlyphs">Feb 17, 2035</text></g><g transform="translate(292.3 133.1) rotate(30)"><text x="0" y="0">06:00</text></g><g transform="translate(330.3 133.1) rotate(30)"><text x="0" y="0">12:00</text></g><g transform="translate(368.3 133.1) rotate(30)"><text x="0" y="0">18:00</text></g><g transform="translate(406.3 133.1) rotate(30)"><text x="0" y="0">00:00</text><text x="0" y="11.6" textLength="52.6" lengthAdjust="spacingAndGlyphs">Feb 18, 2035</text></g></g>
<g font-size="10.9" fill="#222"><line x1="417.3" y1="25.6" x2="428.8" y2="25.6" stroke="#2a2e33" stroke-width="1.1"/><text x="431.3" y="29.5" textLength="74.6" lengthAdjust="spacingAndGlyphs">Backup residue</text><line x1="417.3" y1="41" x2="428.8" y2="41" stroke="#b87fb2" stroke-width="2"/><text x="431.3" y="44.9" textLength="108.7" lengthAdjust="spacingAndGlyphs">Storage orders at LEM</text><line x1="417.3" y1="56.4" x2="428.8" y2="56.4" stroke="#a6bcd8" stroke-width="2"/><text x="431.3" y="60.3" textLength="117" lengthAdjust="spacingAndGlyphs">Buy orders from Backup</text><line x1="417.3" y1="71.8" x2="428.8" y2="71.8" stroke="#4e79a7" stroke-width="2"/><text x="431.3" y="75.7" textLength="102.2" lengthAdjust="spacingAndGlyphs">Buy orders from LEM</text><line x1="417.3" y1="87.2" x2="428.8" y2="87.2" stroke="#fac391" stroke-width="2"/><text x="431.3" y="91.1" textLength="103.5" lengthAdjust="spacingAndGlyphs">Sell orders to Backup</text><line x1="417.3" y1="102.6" x2="428.8" y2="102.6" stroke="#f5871f" stroke-width="2"/><text x="431.3" y="106.5" textLength="88.8" lengthAdjust="spacingAndGlyphs">Sell orders to LEM</text></g>
<text x="279.4" y="188.5" font-family='"Liberation Serif", "Times New Roman", serif' font-size="12.6" text-anchor="middle" fill="#222" style="stroke-width:0.1px" textLength="119" lengthAdjust="spacing"><tspan font-weight="bold">(a)</tspan> Flat participant fees</text>
<text x="126.5" y="204.3" font-size="11.8" text-anchor="middle" fill="#222">Summer</text>
<text x="332.8" y="204.3" font-size="11.8" text-anchor="middle" fill="#222">Winter</text>
<text transform="translate(16.2 261.1) rotate(-90)" font-size="12.95" text-anchor="middle" fill="#222">Active power [kW]</text>
<g stroke="#d6d6d6" stroke-width="1" fill="none"><line x1="50.5" y1="224.6" x2="202.5" y2="224.6"/><line x1="50.5" y1="248" x2="202.5" y2="248"/><line x1="50.5" y1="271.5" x2="202.5" y2="271.5"/><line x1="50.5" y1="295" x2="202.5" y2="295"/><line x1="88.5" y1="208" x2="88.5" y2="314"/><line x1="126.5" y1="208" x2="126.5" y2="314"/><line x1="164.5" y1="208" x2="164.5" y2="314"/></g>
<path d="M50.5 264.5L52.1 264.5L52.1 259.8L53.7 259.8L53.7 257.9L55.2 257.9L55.2 262.1L56.8 262.1L56.8 264.9L58.4 264.9L58.4 263.5L60 263.5L60 267.2L61.6 267.2L61.6 267L63.2 267L63.2 263.5L64.8 263.5L64.8 264.4L66.3 264.4L66.3 263.8L67.9 263.8L67.9 267L69.5 267L69.5 266.7L71.1 266.7L71.1 267.1L72.7 267.1L72.7 267.2L74.2 267.2L74.2 266.5L75.8 266.5L75.8 267L77.4 267L77.4 263.8L79 263.8L79 267.5L80.6 267.5L80.6 265.7L82.2 265.7L82.2 266.6L83.8 266.6L83.8 267.6L85.3 267.6L85.3 268.1L86.9 268.1L86.9 267.7L88.5 267.7L88.5 266.7L90.1 266.7L90.1 265.1L91.7 265.1L91.7 262L93.2 262L93.2 262L94.8 262L94.8 259L96.4 259L96.4 253.7L98 253.7L98 253.1L99.6 253.1L99.6 258L101.2 258L101.2 267.5L102.8 267.5L102.8 263.2L104.3 263.2L104.3 263.4L105.9 263.4L105.9 264.9L107.5 264.9L107.5 262L109.1 262L109.1 264L110.7 264L110.7 262.1L112.2 262.1L112.2 263.4L113.8 263.4L113.8 264.5L115.4 264.5L115.4 257.2L117 257.2L117 263.4L118.6 263.4L118.6 257.5L120.2 257.5L120.2 255.8L121.8 255.8L121.8 259.5L123.3 259.5L123.3 263.9L124.9 263.9L124.9 262.5L126.5 262.5L126.5 260.3L128.1 260.3L128.1 262.9L129.7 262.9L129.7 255.7L131.2 255.7L131.2 257.5L132.8 257.5L132.8 258.1L134.4 258.1L134.4 256.2L136 256.2L136 264.5L137.6 264.5L137.6 262.8L139.2 262.8L139.2 257.4L140.8 257.4L140.8 263.7L142.3 263.7L142.3 260.2L143.9 260.2L143.9 265.8L145.5 265.8L145.5 263L147.1 263L147.1 260.9L148.7 260.9L148.7 263.5L150.2 263.5L150.2 264.1L151.8 264.1L151.8 263.2L153.4 263.2L153.4 264.7L155 264.7L155 262.8L156.6 262.8L156.6 260.7L158.2 260.7L158.2 260.1L159.8 260.1L159.8 259.9L161.3 259.9L161.3 252.4L162.9 252.4L162.9 254.2L164.5 254.2L164.5 255.9L166.1 255.9L166.1 258.3L167.7 258.3L167.7 255L169.2 255L169.2 259.2L170.8 259.2L170.8 260.2L172.4 260.2L172.4 257L174 257L174 259.5L175.6 259.5L175.6 255.1L177.2 255.1L177.2 259.8L178.8 259.8L178.8 261.3L180.3 261.3L180.3 256.3L181.9 256.3L181.9 256.3L183.5 256.3L183.5 261.2L185.1 261.2L185.1 261.8L186.7 261.8L186.7 265.7L188.2 265.7L188.2 264.9L189.8 264.9L189.8 266.3L191.4 266.3L191.4 264.1L193 264.1L193 264.2L194.6 264.2L194.6 265.2L196.2 265.2L196.2 265.3L197.8 265.3L197.8 265.7L199.3 265.7L199.3 264.7L200.9 264.7L200.9 264.8L202.5 264.8L202.5 268.9L200.9 268.9L200.9 268.5L199.3 268.5L199.3 269L197.8 269L197.8 268.9L196.2 268.9L196.2 269.3L194.6 269.3L194.6 268.9L193 268.9L193 269.2L191.4 269.2L191.4 268.8L189.8 268.8L189.8 268.2L188.2 268.2L188.2 269L186.7 269L186.7 269L185.1 269L185.1 269.3L183.5 269.3L183.5 268.4L181.9 268.4L181.9 269.1L180.3 269.1L180.3 268.1L178.8 268.1L178.8 268.4L177.2 268.4L177.2 268.1L175.6 268.1L175.6 268.1L174 268.1L174 268.8L172.4 268.8L172.4 269.4L170.8 269.4L170.8 268.4L169.2 268.4L169.2 265.9L167.7 265.9L167.7 266.9L166.1 266.9L166.1 264.2L164.5 264.2L164.5 261.2L162.9 261.2L162.9 259.8L161.3 259.8L161.3 259.9L159.8 259.9L159.8 260.1L158.2 260.1L158.2 260.7L156.6 260.7L156.6 262.8L155 262.8L155 264.7L153.4 264.7L153.4 263.2L151.8 263.2L151.8 264.1L150.2 264.1L150.2 263.5L148.7 263.5L148.7 260.9L147.1 260.9L147.1 263L145.5 263L145.5 265.8L143.9 265.8L143.9 260.2L142.3 260.2L142.3 263.7L140.8 263.7L140.8 257.4L139.2 257.4L139.2 262.8L137.6 262.8L137.6 264.5L136 264.5L136 256.2L134.4 256.2L134.4 258.1L132.8 258.1L132.8 257.5L131.2 257.5L131.2 255.7L129.7 255.7L129.7 262.9L128.1 262.9L128.1 260.3L126.5 260.3L126.5 262.5L124.9 262.5L124.9 263.9L123.3 263.9L123.3 259.5L121.8 259.5L121.8 255.8L120.2 255.8L120.2 257.5L118.6 257.5L118.6 263.4L117 263.4L117 257.2L115.4 257.2L115.4 264.5L113.8 264.5L113.8 263.4L112.2 263.4L112.2 262.1L110.7 262.1L110.7 264L109.1 264L109.1 262L107.5 262L107.5 264.9L105.9 264.9L105.9 263.4L104.3 263.4L104.3 263.2L102.8 263.2L102.8 267.5L101.2 267.5L101.2 259.8L99.6 259.8L99.6 259.3L98 259.3L98 260.9L96.4 260.9L96.4 262.6L94.8 262.6L94.8 264.1L93.2 264.1L93.2 265.6L91.7 265.6L91.7 267.6L90.1 267.6L90.1 269.6L88.5 269.6L88.5 269.4L86.9 269.4L86.9 269.8L85.3 269.8L85.3 269.9L83.8 269.9L83.8 269L82.2 269L82.2 269.4L80.6 269.4L80.6 269.3L79 269.3L79 269.7L77.4 269.7L77.4 269.5L75.8 269.5L75.8 269.8L74.2 269.8L74.2 269.6L72.7 269.6L72.7 269.5L71.1 269.5L71.1 269.8L69.5 269.8L69.5 269.5L67.9 269.5L67.9 269.7L66.3 269.7L66.3 269.8L64.8 269.8L64.8 269L63.2 269L63.2 269.5L61.6 269.5L61.6 269L60 269L60 269.3L58.4 269.3L58.4 269.2L56.8 269.2L56.8 266.8L55.2 266.8L55.2 262.1L53.7 262.1L53.7 264.5L52.1 264.5L52.1 269.6L50.5 269.6Z" fill="#a6bcd8"/>
<path d="M50.5 269.6L52.1 269.6L52.1 264.5L53.7 264.5L53.7 262.1L55.2 262.1L55.2 266.8L56.8 266.8L56.8 269.2L58.4 269.2L58.4 269.3L60 269.3L60 269L61.6 269L61.6 269.5L63.2 269.5L63.2 269L64.8 269L64.8 269.8L66.3 269.8L66.3 269.7L67.9 269.7L67.9 269.5L69.5 269.5L69.5 269.8L71.1 269.8L71.1 269.5L72.7 269.5L72.7 269.6L74.2 269.6L74.2 269.8L75.8 269.8L75.8 269.5L77.4 269.5L77.4 269.7L79 269.7L79 269.3L80.6 269.3L80.6 269.4L82.2 269.4L82.2 269L83.8 269L83.8 269.9L85.3 269.9L85.3 269.8L86.9 269.8L86.9 269.4L88.5 269.4L88.5 269.6L90.1 269.6L90.1 267.6L91.7 267.6L91.7 265.6L93.2 265.6L93.2 264.1L94.8 264.1L94.8 262.6L96.4 262.6L96.4 260.9L98 260.9L98 259.3L99.6 259.3L99.6 259.8L101.2 259.8L101.2 267.5L102.8 267.5L102.8 263.2L104.3 263.2L104.3 263.4L105.9 263.4L105.9 264.9L107.5 264.9L107.5 262L109.1 262L109.1 264L110.7 264L110.7 262.1L112.2 262.1L112.2 263.4L113.8 263.4L113.8 264.5L115.4 264.5L115.4 257.2L117 257.2L117 263.4L118.6 263.4L118.6 257.5L120.2 257.5L120.2 255.8L121.8 255.8L121.8 259.5L123.3 259.5L123.3 263.9L124.9 263.9L124.9 262.5L126.5 262.5L126.5 260.3L128.1 260.3L128.1 262.9L129.7 262.9L129.7 255.7L131.2 255.7L131.2 257.5L132.8 257.5L132.8 258.1L134.4 258.1L134.4 256.2L136 256.2L136 264.5L137.6 264.5L137.6 262.8L139.2 262.8L139.2 257.4L140.8 257.4L140.8 263.7L142.3 263.7L142.3 260.2L143.9 260.2L143.9 265.8L145.5 265.8L145.5 263L147.1 263L147.1 260.9L148.7 260.9L148.7 263.5L150.2 263.5L150.2 264.1L151.8 264.1L151.8 263.2L153.4 263.2L153.4 264.7L155 264.7L155 262.8L156.6 262.8L156.6 260.7L158.2 260.7L158.2 260.1L159.8 260.1L159.8 259.9L161.3 259.9L161.3 259.8L162.9 259.8L162.9 261.2L164.5 261.2L164.5 264.2L166.1 264.2L166.1 266.9L167.7 266.9L167.7 265.9L169.2 265.9L169.2 268.4L170.8 268.4L170.8 269.4L172.4 269.4L172.4 268.8L174 268.8L174 268.1L175.6 268.1L175.6 268.1L177.2 268.1L177.2 268.4L178.8 268.4L178.8 268.1L180.3 268.1L180.3 269.1L181.9 269.1L181.9 268.4L183.5 268.4L183.5 269.3L185.1 269.3L185.1 269L186.7 269L186.7 269L188.2 269L188.2 268.2L189.8 268.2L189.8 268.8L191.4 268.8L191.4 269.2L193 269.2L193 268.9L194.6 268.9L194.6 269.3L196.2 269.3L196.2 268.9L197.8 268.9L197.8 269L199.3 269L199.3 268.5L200.9 268.5L200.9 268.9L202.5 268.9L202.5 268.9L200.9 268.9L200.9 268.5L199.3 268.5L199.3 269L197.8 269L197.8 268.9L196.2 268.9L196.2 269.3L194.6 269.3L194.6 268.9L193 268.9L193 269.2L191.4 269.2L191.4 268.8L189.8 268.8L189.8 268.2L188.2 268.2L188.2 269L186.7 269L186.7 269L185.1 269L185.1 269.3L183.5 269.3L183.5 268.4L181.9 268.4L181.9 269.1L180.3 269.1L180.3 268.1L178.8 268.1L178.8 268.4L177.2 268.4L177.2 268.1L175.6 268.1L175.6 268.1L174 268.1L174 268.8L172.4 268.8L172.4 269.4L170.8 269.4L170.8 268.4L169.2 268.4L169.2 265.9L167.7 265.9L167.7 266.9L166.1 266.9L166.1 264.2L164.5 264.2L164.5 261.2L162.9 261.2L162.9 259.8L161.3 259.8L161.3 259.9L159.8 259.9L159.8 260.1L158.2 260.1L158.2 260.7L156.6 260.7L156.6 262.8L155 262.8L155 264.7L153.4 264.7L153.4 266.1L151.8 266.1L151.8 267.5L150.2 267.5L150.2 267.5L148.7 267.5L148.7 267.5L147.1 267.5L147.1 267.5L145.5 267.5L145.5 267.5L143.9 267.5L143.9 267.5L142.3 267.5L142.3 267.5L140.8 267.5L140.8 267.5L139.2 267.5L139.2 267.5L137.6 267.5L137.6 267.5L136 267.5L136 267.5L134.4 267.5L134.4 267.5L132.8 267.5L132.8 267.5L131.2 267.5L131.2 267.5L129.7 267.5L129.7 267.5L128.1 267.5L128.1 267.5L126.5 267.5L126.5 267.5L124.9 267.5L124.9 267.5L123.3 267.5L123.3 267.5L121.8 267.5L121.8 267.5L120.2 267.5L120.2 267.5L118.6 267.5L118.6 267.5L117 267.5L117 267.5L115.4 267.5L115.4 267.5L113.8 267.5L113.8 267.5L112.2 267.5L112.2 267.5L110.7 267.5L110.7 267.5L109.1 267.5L109.1 267.5L107.5 267.5L107.5 267.5L105.9 267.5L105.9 267.5L104.3 267.5L104.3 267.5L102.8 267.5L102.8 267.5L101.2 267.5L101.2 259.8L99.6 259.8L99.6 259.3L98 259.3L98 260.9L96.4 260.9L96.4 262.6L94.8 262.6L94.8 264.1L93.2 264.1L93.2 265.6L91.7 265.6L91.7 267.6L90.1 267.6L90.1 269.6L88.5 269.6L88.5 269.4L86.9 269.4L86.9 269.8L85.3 269.8L85.3 269.9L83.8 269.9L83.8 269L82.2 269L82.2 269.4L80.6 269.4L80.6 269.3L79 269.3L79 269.7L77.4 269.7L77.4 269.5L75.8 269.5L75.8 269.8L74.2 269.8L74.2 269.6L72.7 269.6L72.7 269.5L71.1 269.5L71.1 269.8L69.5 269.8L69.5 269.5L67.9 269.5L67.9 269.7L66.3 269.7L66.3 269.8L64.8 269.8L64.8 269L63.2 269L63.2 269.5L61.6 269.5L61.6 269L60 269L60 269.3L58.4 269.3L58.4 269.2L56.8 269.2L56.8 266.8L55.2 266.8L55.2 262.1L53.7 262.1L53.7 264.5L52.1 264.5L52.1 269.6L50.5 269.6Z" fill="#b87fb2"/>
<path d="M50.5 269.6L52.1 269.6L52.1 264.5L53.7 264.5L53.7 262.1L55.2 262.1L55.2 266.8L56.8 266.8L56.8 269.2L58.4 269.2L58.4 269.3L60 269.3L60 269L61.6 269L61.6 269.5L63.2 269.5L63.2 269L64.8 269L64.8 269.8L66.3 269.8L66.3 269.7L67.9 269.7L67.9 269.5L69.5 269.5L69.5 269.8L71.1 269.8L71.1 269.5L72.7 269.5L72.7 269.6L74.2 269.6L74.2 269.8L75.8 269.8L75.8 269.5L77.4 269.5L77.4 269.7L79 269.7L79 269.3L80.6 269.3L80.6 269.4L82.2 269.4L82.2 269L83.8 269L83.8 269.9L85.3 269.9L85.3 269.8L86.9 269.8L86.9 269.4L88.5 269.4L88.5 269.6L90.1 269.6L90.1 267.6L91.7 267.6L91.7 265.6L93.2 265.6L93.2 264.1L94.8 264.1L94.8 262.6L96.4 262.6L96.4 260.9L98 260.9L98 259.3L99.6 259.3L99.6 259.8L101.2 259.8L101.2 267.5L102.8 267.5L102.8 267.5L104.3 267.5L104.3 267.5L105.9 267.5L105.9 267.5L107.5 267.5L107.5 267.5L109.1 267.5L109.1 267.5L110.7 267.5L110.7 267.5L112.2 267.5L112.2 267.5L113.8 267.5L113.8 267.5L115.4 267.5L115.4 267.5L117 267.5L117 267.5L118.6 267.5L118.6 267.5L120.2 267.5L120.2 267.5L121.8 267.5L121.8 267.5L123.3 267.5L123.3 267.5L124.9 267.5L124.9 267.5L126.5 267.5L126.5 267.5L128.1 267.5L128.1 267.5L129.7 267.5L129.7 267.5L131.2 267.5L131.2 267.5L132.8 267.5L132.8 267.5L134.4 267.5L134.4 267.5L136 267.5L136 267.5L137.6 267.5L137.6 267.5L139.2 267.5L139.2 267.5L140.8 267.5L140.8 267.5L142.3 267.5L142.3 267.5L143.9 267.5L143.9 267.5L145.5 267.5L145.5 267.5L147.1 267.5L147.1 267.5L148.7 267.5L148.7 267.5L150.2 267.5L150.2 267.5L151.8 267.5L151.8 266.1L153.4 266.1L153.4 264.7L155 264.7L155 262.8L156.6 262.8L156.6 260.7L158.2 260.7L158.2 260.1L159.8 260.1L159.8 259.9L161.3 259.9L161.3 259.8L162.9 259.8L162.9 261.2L164.5 261.2L164.5 264.2L166.1 264.2L166.1 266.9L167.7 266.9L167.7 265.9L169.2 265.9L169.2 268.4L170.8 268.4L170.8 269.4L172.4 269.4L172.4 268.8L174 268.8L174 268.1L175.6 268.1L175.6 268.1L177.2 268.1L177.2 268.4L178.8 268.4L178.8 268.1L180.3 268.1L180.3 269.1L181.9 269.1L181.9 268.4L183.5 268.4L183.5 269.3L185.1 269.3L185.1 269L186.7 269L186.7 269L188.2 269L188.2 268.2L189.8 268.2L189.8 268.8L191.4 268.8L191.4 269.2L193 269.2L193 268.9L194.6 268.9L194.6 269.3L196.2 269.3L196.2 268.9L197.8 268.9L197.8 269L199.3 269L199.3 268.5L200.9 268.5L200.9 268.9L202.5 268.9L202.5 271.5L200.9 271.5L200.9 271.5L199.3 271.5L199.3 271.5L197.8 271.5L197.8 271.5L196.2 271.5L196.2 271.5L194.6 271.5L194.6 271.5L193 271.5L193 271.5L191.4 271.5L191.4 271.5L189.8 271.5L189.8 271.5L188.2 271.5L188.2 271.5L186.7 271.5L186.7 271.5L185.1 271.5L185.1 271.5L183.5 271.5L183.5 271.5L181.9 271.5L181.9 271.5L180.3 271.5L180.3 271.5L178.8 271.5L178.8 271.5L177.2 271.5L177.2 271.5L175.6 271.5L175.6 271.5L174 271.5L174 271.5L172.4 271.5L172.4 271.5L170.8 271.5L170.8 271.5L169.2 271.5L169.2 271.5L167.7 271.5L167.7 271.5L166.1 271.5L166.1 271.5L164.5 271.5L164.5 271.5L162.9 271.5L162.9 271.5L161.3 271.5L161.3 271.5L159.8 271.5L159.8 271.5L158.2 271.5L158.2 271.5L156.6 271.5L156.6 271.5L155 271.5L155 271.5L153.4 271.5L153.4 271.5L151.8 271.5L151.8 271.5L150.2 271.5L150.2 271.5L148.7 271.5L148.7 271.5L147.1 271.5L147.1 271.5L145.5 271.5L145.5 271.5L143.9 271.5L143.9 271.5L142.3 271.5L142.3 271.5L140.8 271.5L140.8 271.5L139.2 271.5L139.2 271.5L137.6 271.5L137.6 271.5L136 271.5L136 271.5L134.4 271.5L134.4 271.5L132.8 271.5L132.8 271.5L131.2 271.5L131.2 271.5L129.7 271.5L129.7 271.5L128.1 271.5L128.1 271.5L126.5 271.5L126.5 271.5L124.9 271.5L124.9 271.5L123.3 271.5L123.3 271.5L121.8 271.5L121.8 271.5L120.2 271.5L120.2 271.5L118.6 271.5L118.6 271.5L117 271.5L117 271.5L115.4 271.5L115.4 271.5L113.8 271.5L113.8 271.5L112.2 271.5L112.2 271.5L110.7 271.5L110.7 271.5L109.1 271.5L109.1 271.5L107.5 271.5L107.5 271.5L105.9 271.5L105.9 271.5L104.3 271.5L104.3 271.5L102.8 271.5L102.8 271.5L101.2 271.5L101.2 271.5L99.6 271.5L99.6 271.5L98 271.5L98 271.5L96.4 271.5L96.4 271.5L94.8 271.5L94.8 271.5L93.2 271.5L93.2 271.5L91.7 271.5L91.7 271.5L90.1 271.5L90.1 271.5L88.5 271.5L88.5 271.5L86.9 271.5L86.9 271.5L85.3 271.5L85.3 271.5L83.8 271.5L83.8 271.5L82.2 271.5L82.2 271.5L80.6 271.5L80.6 271.5L79 271.5L79 271.5L77.4 271.5L77.4 271.5L75.8 271.5L75.8 271.5L74.2 271.5L74.2 271.5L72.7 271.5L72.7 271.5L71.1 271.5L71.1 271.5L69.5 271.5L69.5 271.5L67.9 271.5L67.9 271.5L66.3 271.5L66.3 271.5L64.8 271.5L64.8 271.5L63.2 271.5L63.2 271.5L61.6 271.5L61.6 271.5L60 271.5L60 271.5L58.4 271.5L58.4 271.5L56.8 271.5L56.8 271.5L55.2 271.5L55.2 271.5L53.7 271.5L53.7 271.5L52.1 271.5L52.1 271.5L50.5 271.5Z" fill="#4e79a7"/>
<path d="M50.5 271.5L52.1 271.5L52.1 271.5L53.7 271.5L53.7 271.5L55.2 271.5L55.2 271.5L56.8 271.5L56.8 271.5L58.4 271.5L58.4 271.5L60 271.5L60 271.5L61.6 271.5L61.6 271.5L63.2 271.5L63.2 271.5L64.8 271.5L64.8 271.5L66.3 271.5L66.3 271.5L67.9 271.5L67.9 271.5L69.5 271.5L69.5 271.5L71.1 271.5L71.1 271.5L72.7 271.5L72.7 271.5L74.2 271.5L74.2 271.5L75.8 271.5L75.8 271.5L77.4 271.5L77.4 271.5L79 271.5L79 271.5L80.6 271.5L80.6 271.5L82.2 271.5L82.2 271.5L83.8 271.5L83.8 271.5L85.3 271.5L85.3 271.5L86.9 271.5L86.9 271.5L88.5 271.5L88.5 271.5L90.1 271.5L90.1 272L91.7 272L91.7 272.9L93.2 272.9L93.2 273.8L94.8 273.8L94.8 274.8L96.4 274.8L96.4 276.4L98 276.4L98 278.1L99.6 278.1L99.6 280.4L101.2 280.4L101.2 282L102.8 282L102.8 284.1L104.3 284.1L104.3 287.7L105.9 287.7L105.9 292.1L107.5 292.1L107.5 297.2L109.1 297.2L109.1 298.8L110.7 298.8L110.7 303.3L112.2 303.3L112.2 305.1L113.8 305.1L113.8 308.5L115.4 308.5L115.4 309.8L117 309.8L117 308.8L118.6 308.8L118.6 311.5L120.2 311.5L120.2 310.4L121.8 310.4L121.8 312.3L123.3 312.3L123.3 313.6L124.9 313.6L124.9 312.7L126.5 312.7L126.5 311.9L128.1 311.9L128.1 312L129.7 312L129.7 310.9L131.2 310.9L131.2 309.7L132.8 309.7L132.8 307.6L134.4 307.6L134.4 307.1L136 307.1L136 304.1L137.6 304.1L137.6 303.1L139.2 303.1L139.2 301.5L140.8 301.5L140.8 298L142.3 298L142.3 297.2L143.9 297.2L143.9 293.9L145.5 293.9L145.5 293.7L147.1 293.7L147.1 291.6L148.7 291.6L148.7 290.1L150.2 290.1L150.2 287.3L151.8 287.3L151.8 285L153.4 285L153.4 284.7L155 284.7L155 283.8L156.6 283.8L156.6 282.9L158.2 282.9L158.2 281.2L159.8 281.2L159.8 278.4L161.3 278.4L161.3 274.9L162.9 274.9L162.9 271.5L164.5 271.5L164.5 271.5L166.1 271.5L166.1 271.5L167.7 271.5L167.7 271.5L169.2 271.5L169.2 271.5L170.8 271.5L170.8 271.5L172.4 271.5L172.4 271.5L174 271.5L174 271.5L175.6 271.5L175.6 271.5L177.2 271.5L177.2 271.5L178.8 271.5L178.8 271.5L180.3 271.5L180.3 271.5L181.9 271.5L181.9 271.5L183.5 271.5L183.5 271.5L185.1 271.5L185.1 271.5L186.7 271.5L186.7 271.5L188.2 271.5L188.2 271.5L189.8 271.5L189.8 271.5L191.4 271.5L191.4 271.5L193 271.5L193 271.5L194.6 271.5L194.6 271.5L196.2 271.5L196.2 271.5L197.8 271.5L197.8 271.5L199.3 271.5L199.3 271.5L200.9 271.5L200.9 271.5L202.5 271.5L202.5 273L200.9 273L200.9 273L199.3 273L199.3 273L197.8 273L197.8 273.3L196.2 273.3L196.2 272.8L194.6 272.8L194.6 272.3L193 272.3L193 279.8L191.4 279.8L191.4 279.8L189.8 279.8L189.8 272.7L188.2 272.7L188.2 279.4L186.7 279.4L186.7 279.6L185.1 279.6L185.1 279.5L183.5 279.5L183.5 272.8L181.9 272.8L181.9 272.6L180.3 272.6L180.3 272.6L178.8 272.6L178.8 272.4L177.2 272.4L177.2 272.2L175.6 272.2L175.6 279.4L174 279.4L174 272.1L172.4 272.1L172.4 272.2L170.8 272.2L170.8 272.8L169.2 272.8L169.2 279.3L167.7 279.3L167.7 279.2L166.1 279.2L166.1 272.8L164.5 272.8L164.5 272.5L162.9 272.5L162.9 275.9L161.3 275.9L161.3 279.4L159.8 279.4L159.8 283.3L158.2 283.3L158.2 282.9L156.6 282.9L156.6 283.8L155 283.8L155 284.7L153.4 284.7L153.4 285L151.8 285L151.8 287.3L150.2 287.3L150.2 290.1L148.7 290.1L148.7 291.6L147.1 291.6L147.1 293.7L145.5 293.7L145.5 293.9L143.9 293.9L143.9 297.2L142.3 297.2L142.3 298L140.8 298L140.8 301.5L139.2 301.5L139.2 303.1L137.6 303.1L137.6 304.1L136 304.1L136 307.1L134.4 307.1L134.4 307.6L132.8 307.6L132.8 309.7L131.2 309.7L131.2 310.9L129.7 310.9L129.7 312L128.1 312L128.1 311.9L126.5 311.9L126.5 312.7L124.9 312.7L124.9 313.6L123.3 313.6L123.3 312.3L121.8 312.3L121.8 310.4L120.2 310.4L120.2 311.5L118.6 311.5L118.6 308.8L117 308.8L117 309.8L115.4 309.8L115.4 308.5L113.8 308.5L113.8 305.1L112.2 305.1L112.2 303.3L110.7 303.3L110.7 298.8L109.1 298.8L109.1 297.2L107.5 297.2L107.5 292.1L105.9 292.1L105.9 287.7L104.3 287.7L104.3 284.1L102.8 284.1L102.8 282L101.2 282L101.2 282.2L99.6 282.2L99.6 279.6L98 279.6L98 277.4L96.4 277.4L96.4 276.1L94.8 276.1L94.8 275.6L93.2 275.6L93.2 276.5L91.7 276.5L91.7 273.4L90.1 273.4L90.1 272.5L88.5 272.5L88.5 273.1L86.9 273.1L86.9 273.4L85.3 273.4L85.3 272.6L83.8 272.6L83.8 273.1L82.2 273.1L82.2 275.2L80.6 275.2L80.6 272.4L79 272.4L79 272.5L77.4 272.5L77.4 272.3L75.8 272.3L75.8 272.8L74.2 272.8L74.2 273.2L72.7 273.2L72.7 274.9L71.1 274.9L71.1 273.3L69.5 273.3L69.5 272.8L67.9 272.8L67.9 272.4L66.3 272.4L66.3 272.6L64.8 272.6L64.8 273.4L63.2 273.4L63.2 274.1L61.6 274.1L61.6 272.3L60 272.3L60 274.6L58.4 274.6L58.4 273L56.8 273L56.8 272.5L55.2 272.5L55.2 272.2L53.7 272.2L53.7 274.9L52.1 274.9L52.1 272.8L50.5 272.8Z" fill="#b87fb2"/>
<path d="M50.5 271.5L52.1 271.5L52.1 271.5L53.7 271.5L53.7 271.5L55.2 271.5L55.2 271.5L56.8 271.5L56.8 271.5L58.4 271.5L58.4 271.5L60 271.5L60 271.5L61.6 271.5L61.6 271.5L63.2 271.5L63.2 271.5L64.8 271.5L64.8 271.5L66.3 271.5L66.3 271.5L67.9 271.5L67.9 271.5L69.5 271.5L69.5 271.5L71.1 271.5L71.1 271.5L72.7 271.5L72.7 271.5L74.2 271.5L74.2 271.5L75.8 271.5L75.8 271.5L77.4 271.5L77.4 271.5L79 271.5L79 271.5L80.6 271.5L80.6 271.5L82.2 271.5L82.2 271.5L83.8 271.5L83.8 271.5L85.3 271.5L85.3 271.5L86.9 271.5L86.9 271.5L88.5 271.5L88.5 271.5L90.1 271.5L90.1 272L91.7 272L91.7 272.8L93.2 272.8L93.2 273.5L94.8 273.5L94.8 274.3L96.4 274.3L96.4 275.7L98 275.7L98 277.1L99.6 277.1L99.6 278.3L101.2 278.3L101.2 279.5L102.8 279.5L102.8 280.1L104.3 280.1L104.3 280.7L105.9 280.7L105.9 278.8L107.5 278.8L107.5 280L109.1 280L109.1 280L110.7 280L110.7 286.2L112.2 286.2L112.2 280.9L113.8 280.9L113.8 281L115.4 281L115.4 284.9L117 284.9L117 280.9L118.6 280.9L118.6 282.4L120.2 282.4L120.2 283.7L121.8 283.7L121.8 287.4L123.3 287.4L123.3 282.6L124.9 282.6L124.9 284.7L126.5 284.7L126.5 284.2L128.1 284.2L128.1 281.7L129.7 281.7L129.7 281.2L131.2 281.2L131.2 287.8L132.8 287.8L132.8 280.4L134.4 280.4L134.4 279.9L136 279.9L136 279.9L137.6 279.9L137.6 282.7L139.2 282.7L139.2 283.4L140.8 283.4L140.8 284.7L142.3 284.7L142.3 281.6L143.9 281.6L143.9 282.5L145.5 282.5L145.5 286.2L147.1 286.2L147.1 285.8L148.7 285.8L148.7 281.5L150.2 281.5L150.2 282L151.8 282L151.8 282.1L153.4 282.1L153.4 281.6L155 281.6L155 281.1L156.6 281.1L156.6 280.4L158.2 280.4L158.2 279.1L159.8 279.1L159.8 277.1L161.3 277.1L161.3 274.2L162.9 274.2L162.9 271.5L164.5 271.5L164.5 271.5L166.1 271.5L166.1 271.5L167.7 271.5L167.7 271.5L169.2 271.5L169.2 271.5L170.8 271.5L170.8 271.5L172.4 271.5L172.4 271.5L174 271.5L174 271.5L175.6 271.5L175.6 271.5L177.2 271.5L177.2 271.5L178.8 271.5L178.8 271.5L180.3 271.5L180.3 271.5L181.9 271.5L181.9 271.5L183.5 271.5L183.5 271.5L185.1 271.5L185.1 271.5L186.7 271.5L186.7 271.5L188.2 271.5L188.2 271.5L189.8 271.5L189.8 271.5L191.4 271.5L191.4 271.5L193 271.5L193 271.5L194.6 271.5L194.6 271.5L196.2 271.5L196.2 271.5L197.8 271.5L197.8 271.5L199.3 271.5L199.3 271.5L200.9 271.5L200.9 271.5L202.5 271.5L202.5 271.5L200.9 271.5L200.9 271.5L199.3 271.5L199.3 271.5L197.8 271.5L197.8 271.5L196.2 271.5L196.2 271.5L194.6 271.5L194.6 271.5L193 271.5L193 271.5L191.4 271.5L191.4 271.5L189.8 271.5L189.8 271.5L188.2 271.5L188.2 271.5L186.7 271.5L186.7 271.5L185.1 271.5L185.1 271.5L183.5 271.5L183.5 271.5L181.9 271.5L181.9 271.5L180.3 271.5L180.3 271.5L178.8 271.5L178.8 271.5L177.2 271.5L177.2 271.5L175.6 271.5L175.6 271.5L174 271.5L174 271.5L172.4 271.5L172.4 271.5L170.8 271.5L170.8 271.5L169.2 271.5L169.2 271.5L167.7 271.5L167.7 271.5L166.1 271.5L166.1 271.5L164.5 271.5L164.5 271.5L162.9 271.5L162.9 274.9L161.3 274.9L161.3 278.4L159.8 278.4L159.8 281.2L158.2 281.2L158.2 282.9L156.6 282.9L156.6 283.8L155 283.8L155 284.7L153.4 284.7L153.4 285L151.8 285L151.8 287.3L150.2 287.3L150.2 290.1L148.7 290.1L148.7 291.6L147.1 291.6L147.1 293.7L145.5 293.7L145.5 293.9L143.9 293.9L143.9 297.2L142.3 297.2L142.3 298L140.8 298L140.8 301.5L139.2 301.5L139.2 303.1L137.6 303.1L137.6 304.1L136 304.1L136 307.1L134.4 307.1L134.4 307.6L132.8 307.6L132.8 309.7L131.2 309.7L131.2 310.9L129.7 310.9L129.7 312L128.1 312L128.1 311.9L126.5 311.9L126.5 312.7L124.9 312.7L124.9 313.6L123.3 313.6L123.3 312.3L121.8 312.3L121.8 310.4L120.2 310.4L120.2 311.5L118.6 311.5L118.6 308.8L117 308.8L117 309.8L115.4 309.8L115.4 308.5L113.8 308.5L113.8 305.1L112.2 305.1L112.2 303.3L110.7 303.3L110.7 298.8L109.1 298.8L109.1 297.2L107.5 297.2L107.5 292.1L105.9 292.1L105.9 287.7L104.3 287.7L104.3 284.1L102.8 284.1L102.8 282L101.2 282L101.2 280.4L99.6 280.4L99.6 278.1L98 278.1L98 276.4L96.4 276.4L96.4 274.8L94.8 274.8L94.8 273.8L93.2 273.8L93.2 272.9L91.7 272.9L91.7 272L90.1 272L90.1 271.5L88.5 271.5L88.5 271.5L86.9 271.5L86.9 271.5L85.3 271.5L85.3 271.5L83.8 271.5L83.8 271.5L82.2 271.5L82.2 271.5L80.6 271.5L80.6 271.5L79 271.5L79 271.5L77.4 271.5L77.4 271.5L75.8 271.5L75.8 271.5L74.2 271.5L74.2 271.5L72.7 271.5L72.7 271.5L71.1 271.5L71.1 271.5L69.5 271.5L69.5 271.5L67.9 271.5L67.9 271.5L66.3 271.5L66.3 271.5L64.8 271.5L64.8 271.5L63.2 271.5L63.2 271.5L61.6 271.5L61.6 271.5L60 271.5L60 271.5L58.4 271.5L58.4 271.5L56.8 271.5L56.8 271.5L55.2 271.5L55.2 271.5L53.7 271.5L53.7 271.5L52.1 271.5L52.1 271.5L50.5 271.5Z" fill="#fac391"/>
<path d="M50.5 271.5L52.1 271.5L52.1 271.5L53.7 271.5L53.7 271.5L55.2 271.5L55.2 271.5L56.8 271.5L56.8 271.5L58.4 271.5L58.4 271.5L60 271.5L60 271.5L61.6 271.5L61.6 271.5L63.2 271.5L63.2 271.5L64.8 271.5L64.8 271.5L66.3 271.5L66.3 271.5L67.9 271.5L67.9 271.5L69.5 271.5L69.5 271.5L71.1 271.5L71.1 271.5L72.7 271.5L72.7 271.5L74.2 271.5L74.2 271.5L75.8 271.5L75.8 271.5L77.4 271.5L77.4 271.5L79 271.5L79 271.5L80.6 271.5L80.6 271.5L82.2 271.5L82.2 271.5L83.8 271.5L83.8 271.5L85.3 271.5L85.3 271.5L86.9 271.5L86.9 271.5L88.5 271.5L88.5 271.5L90.1 271.5L90.1 271.5L91.7 271.5L91.7 271.5L93.2 271.5L93.2 271.5L94.8 271.5L94.8 271.5L96.4 271.5L96.4 271.5L98 271.5L98 271.5L99.6 271.5L99.6 271.5L101.2 271.5L101.2 271.5L102.8 271.5L102.8 271.5L104.3 271.5L104.3 271.5L105.9 271.5L105.9 271.5L107.5 271.5L107.5 271.5L109.1 271.5L109.1 271.5L110.7 271.5L110.7 271.5L112.2 271.5L112.2 271.5L113.8 271.5L113.8 271.5L115.4 271.5L115.4 271.5L117 271.5L117 271.5L118.6 271.5L118.6 271.5L120.2 271.5L120.2 271.5L121.8 271.5L121.8 271.5L123.3 271.5L123.3 271.5L124.9 271.5L124.9 271.5L126.5 271.5L126.5 271.5L128.1 271.5L128.1 271.5L129.7 271.5L129.7 271.5L131.2 271.5L131.2 271.5L132.8 271.5L132.8 271.5L134.4 271.5L134.4 271.5L136 271.5L136 271.5L137.6 271.5L137.6 271.5L139.2 271.5L139.2 271.5L140.8 271.5L140.8 271.5L142.3 271.5L142.3 271.5L143.9 271.5L143.9 271.5L145.5 271.5L145.5 271.5L147.1 271.5L147.1 271.5L148.7 271.5L148.7 271.5L150.2 271.5L150.2 271.5L151.8 271.5L151.8 271.5L153.4 271.5L153.4 271.5L155 271.5L155 271.5L156.6 271.5L156.6 271.5L158.2 271.5L158.2 271.5L159.8 271.5L159.8 271.5L161.3 271.5L161.3 271.5L162.9 271.5L162.9 271.5L164.5 271.5L164.5 271.5L166.1 271.5L166.1 271.5L167.7 271.5L167.7 271.5L169.2 271.5L169.2 271.5L170.8 271.5L170.8 271.5L172.4 271.5L172.4 271.5L174 271.5L174 271.5L175.6 271.5L175.6 271.5L177.2 271.5L177.2 271.5L178.8 271.5L178.8 271.5L180.3 271.5L180.3 271.5L181.9 271.5L181.9 271.5L183.5 271.5L183.5 271.5L185.1 271.5L185.1 271.5L186.7 271.5L186.7 271.5L188.2 271.5L188.2 271.5L189.8 271.5L189.8 271.5L191.4 271.5L191.4 271.5L193 271.5L193 271.5L194.6 271.5L194.6 271.5L196.2 271.5L196.2 271.5L197.8 271.5L197.8 271.5L199.3 271.5L199.3 271.5L200.9 271.5L200.9 271.5L202.5 271.5L202.5 271.5L200.9 271.5L200.9 271.5L199.3 271.5L199.3 271.5L197.8 271.5L197.8 271.5L196.2 271.5L196.2 271.5L194.6 271.5L194.6 271.5L193 271.5L193 271.5L191.4 271.5L191.4 271.5L189.8 271.5L189.8 271.5L188.2 271.5L188.2 271.5L186.7 271.5L186.7 271.5L185.1 271.5L185.1 271.5L183.5 271.5L183.5 271.5L181.9 271.5L181.9 271.5L180.3 271.5L180.3 271.5L178.8 271.5L178.8 271.5L177.2 271.5L177.2 271.5L175.6 271.5L175.6 271.5L174 271.5L174 271.5L172.4 271.5L172.4 271.5L170.8 271.5L170.8 271.5L169.2 271.5L169.2 271.5L167.7 271.5L167.7 271.5L166.1 271.5L166.1 271.5L164.5 271.5L164.5 271.5L162.9 271.5L162.9 274.2L161.3 274.2L161.3 277.1L159.8 277.1L159.8 279.1L158.2 279.1L158.2 280.4L156.6 280.4L156.6 281.1L155 281.1L155 281.6L153.4 281.6L153.4 282.1L151.8 282.1L151.8 282L150.2 282L150.2 281.5L148.7 281.5L148.7 285.8L147.1 285.8L147.1 286.2L145.5 286.2L145.5 282.5L143.9 282.5L143.9 281.6L142.3 281.6L142.3 284.7L140.8 284.7L140.8 283.4L139.2 283.4L139.2 282.7L137.6 282.7L137.6 279.9L136 279.9L136 279.9L134.4 279.9L134.4 280.4L132.8 280.4L132.8 287.8L131.2 287.8L131.2 281.2L129.7 281.2L129.7 281.7L128.1 281.7L128.1 284.2L126.5 284.2L126.5 284.7L124.9 284.7L124.9 282.6L123.3 282.6L123.3 287.4L121.8 287.4L121.8 283.7L120.2 283.7L120.2 282.4L118.6 282.4L118.6 280.9L117 280.9L117 284.9L115.4 284.9L115.4 281L113.8 281L113.8 280.9L112.2 280.9L112.2 286.2L110.7 286.2L110.7 280L109.1 280L109.1 280L107.5 280L107.5 278.8L105.9 278.8L105.9 280.7L104.3 280.7L104.3 280.1L102.8 280.1L102.8 279.5L101.2 279.5L101.2 278.3L99.6 278.3L99.6 277.1L98 277.1L98 275.7L96.4 275.7L96.4 274.3L94.8 274.3L94.8 273.5L93.2 273.5L93.2 272.8L91.7 272.8L91.7 272L90.1 272L90.1 271.5L88.5 271.5L88.5 271.5L86.9 271.5L86.9 271.5L85.3 271.5L85.3 271.5L83.8 271.5L83.8 271.5L82.2 271.5L82.2 271.5L80.6 271.5L80.6 271.5L79 271.5L79 271.5L77.4 271.5L77.4 271.5L75.8 271.5L75.8 271.5L74.2 271.5L74.2 271.5L72.7 271.5L72.7 271.5L71.1 271.5L71.1 271.5L69.5 271.5L69.5 271.5L67.9 271.5L67.9 271.5L66.3 271.5L66.3 271.5L64.8 271.5L64.8 271.5L63.2 271.5L63.2 271.5L61.6 271.5L61.6 271.5L60 271.5L60 271.5L58.4 271.5L58.4 271.5L56.8 271.5L56.8 271.5L55.2 271.5L55.2 271.5L53.7 271.5L53.7 271.5L52.1 271.5L52.1 271.5L50.5 271.5Z" fill="#f5871f"/>
<path d="M50.7 264.4L52.4 264.4L52.4 259L54.2 259L54.2 261.7L56 261.7L56 265.2L58.6 265.2L58.6 267.9L65.7 267.9L65.7 267L69.2 267L69.2 268.4L73.7 268.4L73.7 262.6L77.2 262.6L77.2 265.2L80.7 265.2L80.7 267.9L86.9 267.9L86.9 266.1L89.6 266.1L89.6 263.5L89.9 263.5L90 262.8L91.9 262.8L91.9 266.5L92.8 266.5L92.8 268.4L95.6 268.4L95.6 265.6L98.4 265.6L98.4 274.9L99.4 274.9L99.4 284.3L100.3 284.3L100.3 286.2L103.1 286.2L103.1 289L105.9 289L105.9 292.8L108.8 292.8L108.8 295.6L113.4 295.6L113.4 300.3L116.3 300.3L116.3 302.1L120.9 302.1L120.9 297.4L124.7 297.4L124.7 304L128.4 304L128.4 300.3L131.3 300.3L131.3 297.4L135.9 297.4L135.9 294.6L139.7 294.6L139.7 291.8L143.4 291.8L143.4 286.2L144 286.2L144 289.7L146.8 289.7L146.8 285.9L149.6 285.9L149.6 282.2L152.4 282.2L152.4 278.4L155.3 278.4L155.3 273.8L157.1 273.8L157.1 270.9L159.9 270.9L159.9 269.1L162.8 269.1L162.8 263.4L166.5 263.4L166.5 257.8L169.3 257.8L169.3 263.4L172.1 263.4L172.1 265.3L174.9 265.3L174.9 263.4L178.7 263.4L178.7 261.6L183.4 261.6L183.4 264.4L186.2 264.4L186.2 265.3L189 265.3L189 269.1L191.8 269.1L191.8 265.3L195.6 265.3L195.6 268.1L200.3 268.1L200.3 265.3L202.5 265.3" fill="none" stroke="#2a2e33" stroke-width="1.05" stroke-linejoin="miter"/>
<rect x="50.5" y="208" width="152" height="106" fill="none" stroke="#111" stroke-width="1.25" stroke-linejoin="round"/>
<g stroke="#d6d6d6" stroke-width="1" fill="none"><line x1="256.5" y1="224.6" x2="408.5" y2="224.6"/><line x1="256.5" y1="248" x2="408.5" y2="248"/><line x1="256.5" y1="271.5" x2="408.5" y2="271.5"/><line x1="256.5" y1="295" x2="408.5" y2="295"/><line x1="294.5" y1="208" x2="294.5" y2="314"/><line x1="332.5" y1="208" x2="332.5" y2="314"/><line x1="370.5" y1="208" x2="370.5" y2="314"/></g>
<path d="M329.4 271.5L329.4 256.5L331.2 256.5L331.2 271.5ZM332.3 271.5L332.3 255.1L333.8 255.1L333.8 271.5ZM333.8 271.5L333.8 252.5L335.4 252.5L335.4 271.5ZM335.4 271.5L335.4 255.1L336.9 255.1L336.9 271.5ZM338 271.5L338 258.6L340.3 258.6L340.3 271.5ZM340.9 271.5L340.9 254.1L343.2 254.1L343.2 271.5ZM344.9 271.5L344.9 253L346.5 253L346.5 271.5ZM346.5 271.5L346.5 255.1L348.9 255.1L348.9 271.5ZM348.9 271.5L348.9 255.5L351.8 255.5L351.8 271.5Z" fill="#a6bcd8"/>
<path d="M256.6 265.7L257.5 265.7L257.5 237.5L259.1 237.5L259.1 264.8L260.4 264.8L260.4 254.8L261.3 254.8L261.3 249.3L263.1 249.3L263.1 244.8L265.8 244.8L265.8 250.2L267.7 250.2L267.7 256.6L269.5 256.6L269.5 261.2L273.1 261.2L273.1 254.8L275.9 254.8L275.9 257.5L278.6 257.5L278.6 264.8L280.4 264.8L280.4 255.7L285 255.7L285 257.5L289.5 257.5L289.5 249.3L290.8 249.3L290.8 256.6L291.3 256.6L291.3 249.3L292.3 249.3L292.3 255.7L293.2 255.7L293.2 251.1L295 251.1L295 250.2L295.7 250.2L295.7 255.7L296.4 255.7L296.4 249.3L298.6 249.3L298.6 247.5L303.2 247.5L303.2 242.9L306.8 242.9L306.8 249.3L309.6 249.3L309.6 247.5L310.8 247.5L310.8 255.7L312.3 255.7L312.3 250.2L315 250.2L315 255.7L318.8 255.7L318.8 244.8L321 244.8L321 254.8L324.1 254.8L324.1 258.4L326.9 258.4L326.9 261.2L330 261.2L330 264.8L333.6 264.8L333.6 263L336.4 263L336.4 265.7L340.9 265.7L340.9 260.3L342 260.3L342 265.7L342.8 265.7L342.8 260.3L343.8 260.3L343.8 265.7L344.6 265.7L344.6 256.6L348.2 256.6L348.2 261.2L349.3 261.2L349.3 255.7L350.4 255.7L350.4 261.2L351.1 261.2L351.1 255.7L351.9 255.7L351.9 254.8L354.6 254.8L354.6 252.1L357.3 252.1L357.3 249.3L360.1 249.3L360.1 248.4L361 248.4L361 253.9L362.1 253.9L362.1 248.4L362.8 248.4L362.8 253.9L363.7 253.9L363.7 250.2L367.3 250.2L367.3 247.5L369.2 247.5L369.2 243.9L371.9 243.9L371.9 247.5L375.5 247.5L375.5 249.3L378.3 249.3L378.3 252.1L381 252.1L381 243.9L382.6 243.9L382.6 251.1L386.5 251.1L386.5 257.5L389.2 257.5L389.2 258.4L392.8 258.4L392.8 259.3L395.6 259.3L395.6 256.6L398.3 256.6L398.3 249.3L399.9 249.3L399.9 256.6L403.8 256.6L403.8 249.3L405.2 249.3L405.2 257.5L406.5 257.5L406.5 258.4L408.5 258.4L408.5 271.5L256.6 271.5Z" fill="#a6bcd8"/>
<path d="M327 271.5L328.5 268.2L330 265.9L332 263.5L334 261.9L335 262.1L337 263.5L339.5 265.2L342 265.9L345 266.6L348 268.2L351 269.4L354 270.3L357.5 268.9L359.5 270.1L361 271.5Z" fill="#4e79a7"/>
<path d="M327 271.5L328.5 273.8L330 276.2L331.5 279.5L333 282.8L334 281.8L336 279.7L340 278.1L345 276.2L349.5 274.1L353 272.7L357.5 273.1L359.5 272.2L361 271.5Z" fill="#f5871f"/>
<line x1="256.5" y1="271.5" x2="408.5" y2="271.5" stroke="#4e79a7" stroke-width="1"/>
<path d="M256.6 265.7L257.5 265.7L257.5 237.5L259.1 237.5L259.1 264.8L260.4 264.8L260.4 254.8L261.3 254.8L261.3 249.3L263.1 249.3L263.1 244.8L265.8 244.8L265.8 250.2L267.7 250.2L267.7 256.6L269.5 256.6L269.5 261.2L273.1 261.2L273.1 254.8L275.9 254.8L275.9 257.5L278.6 257.5L278.6 264.8L280.4 264.8L280.4 255.7L285 255.7L285 257.5L289.5 257.5L289.5 249.3L290.8 249.3L290.8 256.6L291.3 256.6L291.3 249.3L292.3 249.3L292.3 255.7L293.2 255.7L293.2 251.1L295 251.1L295 250.2L295.7 250.2L295.7 255.7L296.4 255.7L296.4 249.3L298.6 249.3L298.6 247.5L303.2 247.5L303.2 242.9L306.8 242.9L306.8 249.3L309.6 249.3L309.6 247.5L310.8 247.5L310.8 255.7L312.3 255.7L312.3 250.2L315 250.2L315 255.7L318.8 255.7L318.8 244.8L321 244.8L321 254.8L324.1 254.8L324.1 258.4L326.9 258.4L326.9 261.2L330 261.2L330 264.8L333.6 264.8L333.6 263L336.4 263L336.4 265.7L340.9 265.7L340.9 260.3L342 260.3L342 265.7L342.8 265.7L342.8 260.3L343.8 260.3L343.8 265.7L344.6 265.7L344.6 256.6L348.2 256.6L348.2 261.2L349.3 261.2L349.3 255.7L350.4 255.7L350.4 261.2L351.1 261.2L351.1 255.7L351.9 255.7L351.9 254.8L354.6 254.8L354.6 252.1L357.3 252.1L357.3 249.3L360.1 249.3L360.1 248.4L361 248.4L361 253.9L362.1 253.9L362.1 248.4L362.8 248.4L362.8 253.9L363.7 253.9L363.7 250.2L367.3 250.2L367.3 247.5L369.2 247.5L369.2 243.9L371.9 243.9L371.9 247.5L375.5 247.5L375.5 249.3L378.3 249.3L378.3 252.1L381 252.1L381 243.9L382.6 243.9L382.6 251.1L386.5 251.1L386.5 257.5L389.2 257.5L389.2 258.4L392.8 258.4L392.8 259.3L395.6 259.3L395.6 256.6L398.3 256.6L398.3 249.3L399.9 249.3L399.9 256.6L403.8 256.6L403.8 249.3L405.2 249.3L405.2 257.5L406.5 257.5L406.5 258.4L408.5 258.4" fill="none" stroke="#2a2e33" stroke-width="1.1"/>
<rect x="256.5" y="208" width="152" height="106" fill="none" stroke="#111" stroke-width="1.25" stroke-linejoin="round"/>
<g font-size="10.7" fill="#222"><text x="47.6" y="228.9" text-anchor="end">200</text><text x="47.6" y="252.3" text-anchor="end">100</text><text x="47.6" y="275.8" text-anchor="end">0</text><text x="47.6" y="299.3" text-anchor="end">−100</text></g>
<g font-size="9.2" fill="#222"><g transform="translate(48.3 325.6) rotate(30)"><text x="0" y="0">00:00</text><text x="0" y="11.6" textLength="54.8" lengthAdjust="spacingAndGlyphs">May 26, 2035</text></g><g transform="translate(86.3 325.6) rotate(30)"><text x="0" y="0">06:00</text></g><g transform="translate(124.3 325.6) rotate(30)"><text x="0" y="0">12:00</text></g><g transform="translate(162.3 325.6) rotate(30)"><text x="0" y="0">18:00</text></g><g transform="translate(200.3 325.6) rotate(30)"><text x="0" y="0">00:00</text><text x="0" y="11.6" textLength="54.8" lengthAdjust="spacingAndGlyphs">May 27, 2035</text></g></g>
<g font-size="9.2" fill="#222"><g transform="translate(254.3 325.6) rotate(30)"><text x="0" y="0">00:00</text><text x="0" y="11.6" textLength="52.6" lengthAdjust="spacingAndGlyphs">Feb 17, 2035</text></g><g transform="translate(292.3 325.6) rotate(30)"><text x="0" y="0">06:00</text></g><g transform="translate(330.3 325.6) rotate(30)"><text x="0" y="0">12:00</text></g><g transform="translate(368.3 325.6) rotate(30)"><text x="0" y="0">18:00</text></g><g transform="translate(406.3 325.6) rotate(30)"><text x="0" y="0">00:00</text><text x="0" y="11.6" textLength="52.6" lengthAdjust="spacingAndGlyphs">Feb 18, 2035</text></g></g>
<g font-size="10.9" fill="#222"><line x1="417.3" y1="218.1" x2="428.8" y2="218.1" stroke="#2a2e33" stroke-width="1.1"/><text x="431.3" y="222" textLength="74.6" lengthAdjust="spacingAndGlyphs">Backup residue</text><line x1="417.3" y1="233.5" x2="428.8" y2="233.5" stroke="#b87fb2" stroke-width="2"/><text x="431.3" y="237.4" textLength="108.7" lengthAdjust="spacingAndGlyphs">Storage orders at LEM</text><line x1="417.3" y1="248.9" x2="428.8" y2="248.9" stroke="#a6bcd8" stroke-width="2"/><text x="431.3" y="252.8" textLength="117" lengthAdjust="spacingAndGlyphs">Buy orders from Backup</text><line x1="417.3" y1="264.3" x2="428.8" y2="264.3" stroke="#4e79a7" stroke-width="2"/><text x="431.3" y="268.2" textLength="102.2" lengthAdjust="spacingAndGlyphs">Buy orders from LEM</text><line x1="417.3" y1="279.7" x2="428.8" y2="279.7" stroke="#fac391" stroke-width="2"/><text x="431.3" y="283.6" textLength="103.5" lengthAdjust="spacingAndGlyphs">Sell orders to Backup</text><line x1="417.3" y1="295.1" x2="428.8" y2="295.1" stroke="#f5871f" stroke-width="2"/><text x="431.3" y="299" textLength="88.8" lengthAdjust="spacingAndGlyphs">Sell orders to LEM</text></g>
<text x="280" y="379.0" font-family='"Liberation Serif", "Times New Roman", serif' font-size="12.6" text-anchor="middle" fill="#222" style="stroke-width:0.1px" textLength="122" lengthAdjust="spacing"><tspan font-weight="bold">(b)</tspan> Reduced feeder fees</text>
</svg>
</body></html>
